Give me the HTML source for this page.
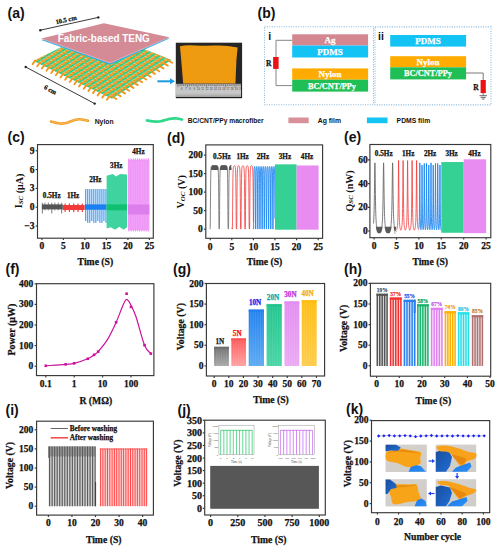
<!DOCTYPE html>
<html><head><meta charset="utf-8"><style>html,body{margin:0;padding:0;background:#fff;width:503px;height:550px;overflow:hidden;}svg{display:block;}</style></head>
<body><svg width="503" height="550" viewBox="0 0 503 550">
<rect width="503" height="550" fill="#fff"/>
<defs>
<pattern id="weavepat" patternUnits="userSpaceOnUse" width="1" height="2" patternTransform="matrix(4.647 2.235 2.727 -1.773 33 61)">
<rect width="1" height="2" fill="#e9f3e4"/>
<ellipse cx="0.3" cy="0.5" rx="0.36" ry="0.47" fill="#f4961c"/>
<ellipse cx="0.3" cy="1.5" rx="0.36" ry="0.47" fill="#f4961c"/>
<rect x="0.52" y="0" width="0.42" height="2" fill="#1fcf82"/>
<ellipse cx="0.62" cy="1.5" rx="0.12" ry="0.28" fill="#f6a030"/>
</pattern>
<pattern id="vstripe" patternUnits="userSpaceOnUse" width="1.7" height="10"><rect x="0" y="0" width="0.5" height="10" fill="#fff" opacity="0.18"/></pattern>
<clipPath id="weaveclip"><polygon points="33,61 96,30 172,60 112,99"/></clipPath>
<linearGradient id="rulerg" x1="0" y1="0" x2="0" y2="1"><stop offset="0" stop-color="#a8a8a8"/><stop offset="0.2" stop-color="#c4c4c4"/><stop offset="0.7" stop-color="#c8c8c8"/><stop offset="1" stop-color="#a0a0a0"/></linearGradient>
<pattern id="knit" patternUnits="userSpaceOnUse" width="2.4" height="2.0"><circle cx="0.6" cy="0.5" r="0.5" fill="#c86a00"/><circle cx="1.8" cy="1.5" r="0.5" fill="#c86a00"/></pattern>
<linearGradient id="glovedk" x1="0" y1="0" x2="1" y2="1"><stop offset="0" stop-color="#1a4e9c"/><stop offset="1" stop-color="#1f6fd8"/></linearGradient>
<linearGradient id="glovelt" x1="0" y1="0" x2="1" y2="1"><stop offset="0" stop-color="#1f78e8"/><stop offset="1" stop-color="#2a90f5"/></linearGradient>
<linearGradient id="photobg" x1="0" y1="0" x2="1" y2="1"><stop offset="0" stop-color="#d6d3cf"/><stop offset="1" stop-color="#cfcbc7"/></linearGradient>
</defs>
<text x="7.50" y="12.70" font-family="Liberation Sans" font-size="14" font-weight="bold" text-anchor="start" dominant-baseline="central" fill="#111">(a)</text>
<g clip-path="url(#weaveclip)">
<polygon points="33,61 93,22 172,60 112,99" fill="url(#weavepat)"/>
</g>
<path d="M35.2,60.5 l-2.6,3.6" fill="none" stroke="#f4961c" stroke-width="1.9" stroke-linecap="round"/>
<path d="M39.8,62.7 l-2.6,3.6" fill="none" stroke="#f4961c" stroke-width="1.9" stroke-linecap="round"/>
<path d="M44.5,64.9 l-2.6,3.6" fill="none" stroke="#f4961c" stroke-width="1.9" stroke-linecap="round"/>
<path d="M49.1,67.2 l-2.6,3.6" fill="none" stroke="#f4961c" stroke-width="1.9" stroke-linecap="round"/>
<path d="M53.8,69.4 l-2.6,3.6" fill="none" stroke="#f4961c" stroke-width="1.9" stroke-linecap="round"/>
<path d="M58.4,71.6 l-2.6,3.6" fill="none" stroke="#f4961c" stroke-width="1.9" stroke-linecap="round"/>
<path d="M63.1,73.9 l-2.6,3.6" fill="none" stroke="#f4961c" stroke-width="1.9" stroke-linecap="round"/>
<path d="M67.7,76.1 l-2.6,3.6" fill="none" stroke="#f4961c" stroke-width="1.9" stroke-linecap="round"/>
<path d="M72.4,78.4 l-2.6,3.6" fill="none" stroke="#f4961c" stroke-width="1.9" stroke-linecap="round"/>
<path d="M77.0,80.6 l-2.6,3.6" fill="none" stroke="#f4961c" stroke-width="1.9" stroke-linecap="round"/>
<path d="M81.7,82.8 l-2.6,3.6" fill="none" stroke="#f4961c" stroke-width="1.9" stroke-linecap="round"/>
<path d="M86.3,85.1 l-2.6,3.6" fill="none" stroke="#f4961c" stroke-width="1.9" stroke-linecap="round"/>
<path d="M91.0,87.3 l-2.6,3.6" fill="none" stroke="#f4961c" stroke-width="1.9" stroke-linecap="round"/>
<path d="M95.6,89.5 l-2.6,3.6" fill="none" stroke="#f4961c" stroke-width="1.9" stroke-linecap="round"/>
<path d="M100.3,91.8 l-2.6,3.6" fill="none" stroke="#f4961c" stroke-width="1.9" stroke-linecap="round"/>
<path d="M104.9,94.0 l-2.6,3.6" fill="none" stroke="#f4961c" stroke-width="1.9" stroke-linecap="round"/>
<path d="M109.5,96.2 l-2.6,3.6" fill="none" stroke="#f4961c" stroke-width="1.9" stroke-linecap="round"/>
<path d="M112.9,97.0 l3.4,2.0" fill="none" stroke="#f4961c" stroke-width="1.9" stroke-linecap="round"/>
<path d="M117.2,94.2 l3.4,2.0" fill="none" stroke="#f4961c" stroke-width="1.9" stroke-linecap="round"/>
<path d="M121.5,91.4 l3.4,2.0" fill="none" stroke="#f4961c" stroke-width="1.9" stroke-linecap="round"/>
<path d="M125.8,88.7 l3.4,2.0" fill="none" stroke="#f4961c" stroke-width="1.9" stroke-linecap="round"/>
<path d="M130.1,85.9 l3.4,2.0" fill="none" stroke="#f4961c" stroke-width="1.9" stroke-linecap="round"/>
<path d="M134.4,83.1 l3.4,2.0" fill="none" stroke="#f4961c" stroke-width="1.9" stroke-linecap="round"/>
<path d="M138.7,80.3 l3.4,2.0" fill="none" stroke="#f4961c" stroke-width="1.9" stroke-linecap="round"/>
<path d="M142.9,77.5 l3.4,2.0" fill="none" stroke="#f4961c" stroke-width="1.9" stroke-linecap="round"/>
<path d="M147.2,74.7 l3.4,2.0" fill="none" stroke="#f4961c" stroke-width="1.9" stroke-linecap="round"/>
<path d="M151.5,71.9 l3.4,2.0" fill="none" stroke="#f4961c" stroke-width="1.9" stroke-linecap="round"/>
<path d="M155.8,69.2 l3.4,2.0" fill="none" stroke="#f4961c" stroke-width="1.9" stroke-linecap="round"/>
<path d="M160.1,66.4 l3.4,2.0" fill="none" stroke="#f4961c" stroke-width="1.9" stroke-linecap="round"/>
<path d="M164.4,63.6 l3.4,2.0" fill="none" stroke="#f4961c" stroke-width="1.9" stroke-linecap="round"/>
<path d="M168.7,60.8 l3.4,2.0" fill="none" stroke="#f4961c" stroke-width="1.9" stroke-linecap="round"/>
<polygon points="41.3,39.9 103.9,24.6 169.4,38.6 110.1,64.8" fill="#1fb4ea"/>
<polygon points="41.3,38.5 103.9,23.3 169.4,37.2 110.1,63.3" fill="#d48b95"/>
<polyline points="41.8,38.9 110.1,62.9 168.8,37.6" fill="none" stroke="#ecb3bb" stroke-width="0.8"/>
<text x="103.80" y="38.00" font-family="Liberation Sans" font-size="10.5" font-weight="bold" text-anchor="middle" dominant-baseline="central" fill="#fff" textLength="92" lengthAdjust="spacingAndGlyphs">Fabric-based TENG</text>
<line x1="40.30" y1="30.20" x2="98.30" y2="17.40" stroke="#222" stroke-width="0.9"/>
<circle cx="40.3" cy="30.2" r="1.2" fill="#222"/><circle cx="98.3" cy="17.4" r="1.2" fill="#222"/>
<text x="66.00" y="19.50" font-family="Liberation Serif" font-size="6.5" font-weight="bold" text-anchor="middle" dominant-baseline="central" fill="#111" stroke="#111" stroke-width="0.25" transform="rotate(-13 66 19.5)">10.5 cm</text>
<line x1="25.70" y1="67.00" x2="94.70" y2="103.60" stroke="#222" stroke-width="0.9"/>
<circle cx="25.7" cy="67" r="1.2" fill="#222"/><circle cx="94.7" cy="103.6" r="1.2" fill="#222"/>
<text x="50.50" y="89.50" font-family="Liberation Serif" font-size="6.5" font-weight="bold" text-anchor="middle" dominant-baseline="central" fill="#111" stroke="#111" stroke-width="0.25" transform="rotate(28 50.5 89.5)">6 cm</text>
<line x1="157.40" y1="81.30" x2="171.00" y2="81.30" stroke="#1d9be0" stroke-width="2"/>
<polygon points="170,78.3 175,81.3 170,84.3" fill="#1d9be0"/>
<rect x="175.80" y="42.70" width="66.30" height="55.40" fill="#262626"/>
<path d="M180,46.2 Q186,44.8 195,45.4 T215,45.6 T237.6,47.4 L236.4,60 L235.4,83.6 L183.2,83.6 L181.4,62 Z" fill="#f3a012"/>
<path d="M180,46.2 Q186,44.8 195,45.4 T215,45.6 T237.6,47.4 L236.4,60 L235.4,83.6 L183.2,83.6 L181.4,62 Z" fill="url(#knit)" opacity="0.35"/>
<rect x="176.00" y="83.80" width="65.00" height="13.20" fill="url(#rulerg)"/>
<line x1="178.00" y1="84.30" x2="178.00" y2="87.20" stroke="#333" stroke-width="0.45"/>
<line x1="179.90" y1="84.30" x2="179.90" y2="86.00" stroke="#333" stroke-width="0.45"/>
<line x1="181.80" y1="84.30" x2="181.80" y2="86.00" stroke="#333" stroke-width="0.45"/>
<line x1="183.70" y1="84.30" x2="183.70" y2="86.00" stroke="#333" stroke-width="0.45"/>
<line x1="185.60" y1="84.30" x2="185.60" y2="86.00" stroke="#333" stroke-width="0.45"/>
<line x1="187.50" y1="84.30" x2="187.50" y2="87.20" stroke="#333" stroke-width="0.45"/>
<line x1="189.40" y1="84.30" x2="189.40" y2="86.00" stroke="#333" stroke-width="0.45"/>
<line x1="191.30" y1="84.30" x2="191.30" y2="86.00" stroke="#333" stroke-width="0.45"/>
<line x1="193.20" y1="84.30" x2="193.20" y2="86.00" stroke="#333" stroke-width="0.45"/>
<line x1="195.10" y1="84.30" x2="195.10" y2="86.00" stroke="#333" stroke-width="0.45"/>
<line x1="197.00" y1="84.30" x2="197.00" y2="87.20" stroke="#333" stroke-width="0.45"/>
<line x1="198.90" y1="84.30" x2="198.90" y2="86.00" stroke="#333" stroke-width="0.45"/>
<line x1="200.80" y1="84.30" x2="200.80" y2="86.00" stroke="#333" stroke-width="0.45"/>
<line x1="202.70" y1="84.30" x2="202.70" y2="86.00" stroke="#333" stroke-width="0.45"/>
<line x1="204.60" y1="84.30" x2="204.60" y2="86.00" stroke="#333" stroke-width="0.45"/>
<line x1="206.50" y1="84.30" x2="206.50" y2="87.20" stroke="#333" stroke-width="0.45"/>
<line x1="208.40" y1="84.30" x2="208.40" y2="86.00" stroke="#333" stroke-width="0.45"/>
<line x1="210.30" y1="84.30" x2="210.30" y2="86.00" stroke="#333" stroke-width="0.45"/>
<line x1="212.20" y1="84.30" x2="212.20" y2="86.00" stroke="#333" stroke-width="0.45"/>
<line x1="214.10" y1="84.30" x2="214.10" y2="86.00" stroke="#333" stroke-width="0.45"/>
<line x1="216.00" y1="84.30" x2="216.00" y2="87.20" stroke="#333" stroke-width="0.45"/>
<line x1="217.90" y1="84.30" x2="217.90" y2="86.00" stroke="#333" stroke-width="0.45"/>
<line x1="219.80" y1="84.30" x2="219.80" y2="86.00" stroke="#333" stroke-width="0.45"/>
<line x1="221.70" y1="84.30" x2="221.70" y2="86.00" stroke="#333" stroke-width="0.45"/>
<line x1="223.60" y1="84.30" x2="223.60" y2="86.00" stroke="#333" stroke-width="0.45"/>
<line x1="225.50" y1="84.30" x2="225.50" y2="87.20" stroke="#333" stroke-width="0.45"/>
<line x1="227.40" y1="84.30" x2="227.40" y2="86.00" stroke="#333" stroke-width="0.45"/>
<line x1="229.30" y1="84.30" x2="229.30" y2="86.00" stroke="#333" stroke-width="0.45"/>
<line x1="231.20" y1="84.30" x2="231.20" y2="86.00" stroke="#333" stroke-width="0.45"/>
<line x1="233.10" y1="84.30" x2="233.10" y2="86.00" stroke="#333" stroke-width="0.45"/>
<line x1="235.00" y1="84.30" x2="235.00" y2="87.20" stroke="#333" stroke-width="0.45"/>
<line x1="236.90" y1="84.30" x2="236.90" y2="86.00" stroke="#333" stroke-width="0.45"/>
<line x1="238.80" y1="84.30" x2="238.80" y2="86.00" stroke="#333" stroke-width="0.45"/>
<line x1="240.70" y1="84.30" x2="240.70" y2="86.00" stroke="#333" stroke-width="0.45"/>
<text x="181.7" y="90.3" font-family="Liberation Sans" font-size="2.6" text-anchor="middle" fill="#333">6</text>
<text x="185.9" y="90.3" font-family="Liberation Sans" font-size="2.6" text-anchor="middle" fill="#333">7</text>
<text x="190.1" y="90.3" font-family="Liberation Sans" font-size="2.6" text-anchor="middle" fill="#333">8</text>
<text x="194.3" y="90.3" font-family="Liberation Sans" font-size="2.6" text-anchor="middle" fill="#333">9</text>
<text x="198.5" y="90.3" font-family="Liberation Sans" font-size="2.6" text-anchor="middle" fill="#333">10</text>
<text x="202.7" y="90.3" font-family="Liberation Sans" font-size="2.6" text-anchor="middle" fill="#333">11</text>
<text x="206.9" y="90.3" font-family="Liberation Sans" font-size="2.6" text-anchor="middle" fill="#333">12</text>
<text x="211.1" y="90.3" font-family="Liberation Sans" font-size="2.6" text-anchor="middle" fill="#333">13</text>
<text x="215.3" y="90.3" font-family="Liberation Sans" font-size="2.6" text-anchor="middle" fill="#333">14</text>
<text x="219.5" y="90.3" font-family="Liberation Sans" font-size="2.6" text-anchor="middle" fill="#333">15</text>
<text x="223.7" y="90.3" font-family="Liberation Sans" font-size="2.6" text-anchor="middle" fill="#333">16</text>
<text x="227.9" y="90.3" font-family="Liberation Sans" font-size="2.6" text-anchor="middle" fill="#333">17</text>
<text x="232.1" y="90.3" font-family="Liberation Sans" font-size="2.6" text-anchor="middle" fill="#333">18</text>
<text x="236.3" y="90.3" font-family="Liberation Sans" font-size="2.6" text-anchor="middle" fill="#333">19</text>
<text x="240.5" y="90.3" font-family="Liberation Sans" font-size="2.6" text-anchor="middle" fill="#333">20</text>
<rect x="176.00" y="97.00" width="66.00" height="1.10" fill="#1a1a1a"/>
<path d="M51,121.5 C58,123.5 62,124.5 68,122.5 C74,120 76,118.5 82,119.5 L88,120.8" fill="none" stroke="#f39a1e" stroke-width="2.6" stroke-linecap="round"/>
<path d="M51,121.5 C58,123.5 62,124.5 68,122.5 C74,120 76,118.5 82,119.5 L88,120.8" fill="none" stroke="#fbd08a" stroke-width="0.6"/>
<text x="94.70" y="121.50" font-family="Liberation Sans" font-size="7.4" font-weight="bold" text-anchor="start" dominant-baseline="central" fill="#111" textLength="18.9" lengthAdjust="spacingAndGlyphs">Nylon</text>
<path d="M147,120.5 C152,121.5 156,122.5 162,121 C168,119 172,117.5 177,118.5 L182,119.5" fill="none" stroke="#2fd88a" stroke-width="2.8" stroke-linecap="round"/>
<text x="187.70" y="120.00" font-family="Liberation Sans" font-size="7.2" font-weight="bold" text-anchor="start" dominant-baseline="central" fill="#111" textLength="76" lengthAdjust="spacingAndGlyphs">BC/CNT/PPy macrofiber</text>
<rect x="288.40" y="117.50" width="20.30" height="5.70" fill="#d8919a"/>
<text x="317.80" y="120.50" font-family="Liberation Sans" font-size="7.2" font-weight="bold" text-anchor="start" dominant-baseline="central" fill="#111" textLength="23.2" lengthAdjust="spacingAndGlyphs">Ag film</text>
<rect x="366.90" y="117.50" width="20.60" height="5.70" fill="#14c4f2"/>
<text x="396.60" y="120.50" font-family="Liberation Sans" font-size="7.2" font-weight="bold" text-anchor="start" dominant-baseline="central" fill="#111" textLength="33.6" lengthAdjust="spacingAndGlyphs">PDMS film</text>
<text x="257.50" y="12.80" font-family="Liberation Sans" font-size="14" font-weight="bold" text-anchor="start" dominant-baseline="central" fill="#111">(b)</text>
<rect x="264.5" y="26.7" width="109" height="78" fill="none" stroke="#93bde0" stroke-width="1.1" stroke-dasharray="1.1 1.3"/>
<rect x="375" y="26.9" width="116" height="78" fill="none" stroke="#93bde0" stroke-width="1.1" stroke-dasharray="1.1 1.3"/>
<text x="269.60" y="35.80" font-family="Liberation Sans" font-size="10.5" font-weight="bold" text-anchor="middle" dominant-baseline="central" fill="#111">i</text>
<rect x="292.20" y="34.30" width="75.90" height="11.20" fill="#d4878f"/>
<rect x="292.20" y="45.50" width="75.90" height="12.00" fill="#13c3f4"/>
<rect x="292.20" y="68.40" width="75.90" height="11.30" fill="#ffab00"/>
<rect x="292.20" y="79.70" width="75.90" height="11.90" fill="#1fbf55"/>
<text x="330.00" y="40.20" font-family="Liberation Serif" font-size="9" font-weight="bold" text-anchor="middle" dominant-baseline="central" fill="#fff" stroke="#fff" stroke-width="0.25">Ag</text>
<text x="330.00" y="51.60" font-family="Liberation Serif" font-size="9" font-weight="bold" text-anchor="middle" dominant-baseline="central" fill="#fff" stroke="#fff" stroke-width="0.25">PDMS</text>
<text x="330.00" y="74.20" font-family="Liberation Serif" font-size="9" font-weight="bold" text-anchor="middle" dominant-baseline="central" fill="#fff" stroke="#fff" stroke-width="0.25">Nylon</text>
<text x="332.00" y="85.80" font-family="Liberation Serif" font-size="9" font-weight="bold" text-anchor="middle" dominant-baseline="central" fill="#fff" stroke="#fff" stroke-width="0.25" textLength="48" lengthAdjust="spacingAndGlyphs">BC/CNT/PPy</text>
<polyline points="292.2,40.3 276,40.3 276,85.6 292.2,85.6" fill="none" stroke="#777" stroke-width="0.9"/>
<rect x="273.10" y="57.00" width="5.50" height="11.90" fill="#ee1111"/>
<text x="268.80" y="63.00" font-family="Liberation Serif" font-size="7.5" font-weight="bold" text-anchor="middle" dominant-baseline="central" fill="#111" stroke="#111" stroke-width="0.25">R</text>
<text x="381.00" y="36.20" font-family="Liberation Sans" font-size="10.5" font-weight="bold" text-anchor="middle" dominant-baseline="central" fill="#111">ii</text>
<rect x="390.20" y="35.00" width="75.90" height="11.60" fill="#13c3f4"/>
<rect x="390.20" y="56.20" width="75.90" height="11.10" fill="#ffab00"/>
<rect x="390.20" y="67.30" width="75.90" height="12.10" fill="#1fbf55"/>
<text x="428.00" y="40.80" font-family="Liberation Serif" font-size="9" font-weight="bold" text-anchor="middle" dominant-baseline="central" fill="#fff" stroke="#fff" stroke-width="0.25">PDMS</text>
<text x="428.00" y="61.80" font-family="Liberation Serif" font-size="9" font-weight="bold" text-anchor="middle" dominant-baseline="central" fill="#fff" stroke="#fff" stroke-width="0.25">Nylon</text>
<text x="428.00" y="73.40" font-family="Liberation Serif" font-size="9" font-weight="bold" text-anchor="middle" dominant-baseline="central" fill="#fff" stroke="#fff" stroke-width="0.25" textLength="48" lengthAdjust="spacingAndGlyphs">BC/CNT/PPy</text>
<polyline points="466.1,73 483.2,73 483.2,80" fill="none" stroke="#555" stroke-width="0.8"/>
<rect x="480.60" y="80.00" width="5.20" height="13.10" fill="#ee1111"/>
<line x1="483.20" y1="93.10" x2="483.20" y2="95.50" stroke="#555" stroke-width="0.8"/>
<line x1="479.50" y1="95.70" x2="487.00" y2="95.70" stroke="#444" stroke-width="0.8"/>
<line x1="480.60" y1="97.40" x2="485.80" y2="97.40" stroke="#444" stroke-width="0.8"/>
<line x1="481.80" y1="99.00" x2="484.60" y2="99.00" stroke="#444" stroke-width="0.8"/>
<text x="476.00" y="87.70" font-family="Liberation Serif" font-size="7.5" font-weight="bold" text-anchor="middle" dominant-baseline="central" fill="#111" stroke="#111" stroke-width="0.25">R</text>
<text x="7.60" y="137.30" font-family="Liberation Sans" font-size="14" font-weight="bold" text-anchor="start" dominant-baseline="central" fill="#111">(c)</text>
<rect x="37.5" y="144.6" width="115.80000000000001" height="93.6" fill="none" stroke="#383838" stroke-width="1.15"/>
<line x1="35.60" y1="150.72" x2="37.50" y2="150.72" stroke="#383838" stroke-width="1.15"/>
<text x="34.50" y="150.72" font-family="Liberation Serif" font-size="9.5" font-weight="bold" text-anchor="end" dominant-baseline="central" fill="#111" stroke="#111" stroke-width="0.25">9</text>
<line x1="35.60" y1="169.55" x2="37.50" y2="169.55" stroke="#383838" stroke-width="1.15"/>
<text x="34.50" y="169.55" font-family="Liberation Serif" font-size="9.5" font-weight="bold" text-anchor="end" dominant-baseline="central" fill="#111" stroke="#111" stroke-width="0.25">6</text>
<line x1="35.60" y1="188.38" x2="37.50" y2="188.38" stroke="#383838" stroke-width="1.15"/>
<text x="34.50" y="188.38" font-family="Liberation Serif" font-size="9.5" font-weight="bold" text-anchor="end" dominant-baseline="central" fill="#111" stroke="#111" stroke-width="0.25">3</text>
<line x1="35.60" y1="207.20" x2="37.50" y2="207.20" stroke="#383838" stroke-width="1.15"/>
<text x="34.50" y="207.20" font-family="Liberation Serif" font-size="9.5" font-weight="bold" text-anchor="end" dominant-baseline="central" fill="#111" stroke="#111" stroke-width="0.25">0</text>
<line x1="35.60" y1="226.02" x2="37.50" y2="226.02" stroke="#383838" stroke-width="1.15"/>
<text x="34.50" y="226.02" font-family="Liberation Serif" font-size="9.5" font-weight="bold" text-anchor="end" dominant-baseline="central" fill="#111" stroke="#111" stroke-width="0.25">−3</text>
<line x1="41.90" y1="238.20" x2="41.90" y2="240.10" stroke="#383838" stroke-width="1.15"/>
<text x="41.90" y="245.70" font-family="Liberation Serif" font-size="9.5" font-weight="bold" text-anchor="middle" dominant-baseline="central" fill="#111" stroke="#111" stroke-width="0.25">0</text>
<line x1="63.40" y1="238.20" x2="63.40" y2="240.10" stroke="#383838" stroke-width="1.15"/>
<text x="63.40" y="245.70" font-family="Liberation Serif" font-size="9.5" font-weight="bold" text-anchor="middle" dominant-baseline="central" fill="#111" stroke="#111" stroke-width="0.25">5</text>
<line x1="84.90" y1="238.20" x2="84.90" y2="240.10" stroke="#383838" stroke-width="1.15"/>
<text x="84.90" y="245.70" font-family="Liberation Serif" font-size="9.5" font-weight="bold" text-anchor="middle" dominant-baseline="central" fill="#111" stroke="#111" stroke-width="0.25">10</text>
<line x1="106.40" y1="238.20" x2="106.40" y2="240.10" stroke="#383838" stroke-width="1.15"/>
<text x="106.40" y="245.70" font-family="Liberation Serif" font-size="9.5" font-weight="bold" text-anchor="middle" dominant-baseline="central" fill="#111" stroke="#111" stroke-width="0.25">15</text>
<line x1="127.90" y1="238.20" x2="127.90" y2="240.10" stroke="#383838" stroke-width="1.15"/>
<text x="127.90" y="245.70" font-family="Liberation Serif" font-size="9.5" font-weight="bold" text-anchor="middle" dominant-baseline="central" fill="#111" stroke="#111" stroke-width="0.25">20</text>
<line x1="149.40" y1="238.20" x2="149.40" y2="240.10" stroke="#383838" stroke-width="1.15"/>
<text x="149.40" y="245.70" font-family="Liberation Serif" font-size="9.5" font-weight="bold" text-anchor="middle" dominant-baseline="central" fill="#111" stroke="#111" stroke-width="0.25">25</text>
<text x="95.40" y="261.10" font-family="Liberation Serif" font-size="9.7" font-weight="bold" text-anchor="middle" dominant-baseline="central" fill="#111" stroke="#111" stroke-width="0.25">Time (S)</text>
<text x="0" y="0" transform="translate(18.8 191) rotate(-90)" font-family="Liberation Serif" font-size="10" font-weight="bold" text-anchor="middle" dominant-baseline="central" fill="#111">I<tspan font-size="7" dy="2" font-style="italic">SC</tspan><tspan dy="-2"> (μA)</tspan></text>
<rect x="41.90" y="204.38" width="20.85" height="5.02" fill="#555"/>
<line x1="42.33" y1="202.81" x2="42.33" y2="213.47" stroke="#555" stroke-width="0.8"/>
<line x1="51.79" y1="202.81" x2="51.79" y2="213.47" stroke="#555" stroke-width="0.8"/>
<line x1="61.68" y1="202.81" x2="61.68" y2="213.47" stroke="#555" stroke-width="0.8"/>
<line x1="44.91" y1="202.49" x2="44.91" y2="210.34" stroke="#555" stroke-width="0.7"/>
<line x1="48.35" y1="202.49" x2="48.35" y2="210.34" stroke="#555" stroke-width="0.7"/>
<line x1="54.80" y1="202.49" x2="54.80" y2="210.34" stroke="#555" stroke-width="0.7"/>
<line x1="58.24" y1="202.49" x2="58.24" y2="210.34" stroke="#555" stroke-width="0.7"/>
<rect x="62.97" y="205.00" width="21.72" height="5.02" fill="#f23b3b"/>
<line x1="65.12" y1="203.44" x2="65.12" y2="211.91" stroke="#f23b3b" stroke-width="1.2"/>
<line x1="69.42" y1="203.44" x2="69.42" y2="211.91" stroke="#f23b3b" stroke-width="1.2"/>
<line x1="73.72" y1="203.44" x2="73.72" y2="211.91" stroke="#f23b3b" stroke-width="1.2"/>
<line x1="78.02" y1="203.44" x2="78.02" y2="211.91" stroke="#f23b3b" stroke-width="1.2"/>
<line x1="82.32" y1="203.44" x2="82.32" y2="211.91" stroke="#f23b3b" stroke-width="1.2"/>
<line x1="85.76" y1="189.00" x2="85.76" y2="221.00" stroke="#2288ee" stroke-width="1.0"/>
<line x1="87.78" y1="189.00" x2="87.78" y2="222.89" stroke="#2288ee" stroke-width="1.0"/>
<line x1="89.80" y1="189.00" x2="89.80" y2="222.89" stroke="#2288ee" stroke-width="1.0"/>
<line x1="91.82" y1="189.00" x2="91.82" y2="221.00" stroke="#2288ee" stroke-width="1.0"/>
<line x1="93.84" y1="189.00" x2="93.84" y2="222.89" stroke="#2288ee" stroke-width="1.0"/>
<line x1="95.86" y1="189.00" x2="95.86" y2="222.89" stroke="#2288ee" stroke-width="1.0"/>
<line x1="97.89" y1="189.00" x2="97.89" y2="221.00" stroke="#2288ee" stroke-width="1.0"/>
<line x1="99.91" y1="189.00" x2="99.91" y2="222.89" stroke="#2288ee" stroke-width="1.0"/>
<line x1="101.93" y1="189.00" x2="101.93" y2="222.89" stroke="#2288ee" stroke-width="1.0"/>
<line x1="103.95" y1="189.00" x2="103.95" y2="221.00" stroke="#2288ee" stroke-width="1.0"/>
<line x1="105.97" y1="189.00" x2="105.97" y2="222.89" stroke="#2288ee" stroke-width="1.0"/>
<rect x="84.90" y="204.38" width="21.50" height="5.33" fill="#1a7ff0"/>
<path d="M106.61500000000001,175.825 L112.85,173.9425 L115.85999999999999,176.4525 L120.16,173.9425 L127.03999999999999,174.57 L127.03999999999999,227.28 L123.6,229.79 L119.29999999999998,226.65249999999997 L115.0,229.79 L110.69999999999999,227.28 L106.61500000000001,228.535 Z" fill="#3fd3a0"/>
<rect x="106.62" y="204.38" width="20.42" height="5.96" fill="#10c070"/>
<path d="M127.90,160.14 L127.90,160.14 L128.97,157.63 L130.05,160.14 L131.12,157.63 L132.20,160.14 L133.28,157.63 L134.35,160.14 L135.42,157.63 L136.50,160.14 L137.57,157.63 L138.65,160.14 L139.72,157.63 L140.80,160.14 L141.88,157.63 L142.95,160.14 L144.03,157.63 L145.10,160.14 L146.17,157.63 L147.25,160.14 L148.32,157.63 L149.40,160.14 L149.40,229.79 L148.32,231.99 L147.25,229.79 L146.17,231.99 L145.10,229.79 L144.03,231.99 L142.95,229.79 L141.88,231.99 L140.80,229.79 L139.72,231.99 L138.65,229.79 L137.57,231.99 L136.50,229.79 L135.42,231.99 L134.35,229.79 L133.28,231.99 L132.20,229.79 L131.12,231.99 L130.05,229.79 L128.97,231.99 L127.90,229.79 Z" fill="#ef96f6"/>
<rect x="127.90" y="161.39" width="21.50" height="68.40" fill="url(#vstripe)"/>
<rect x="127.90" y="204.50" width="21.50" height="9.98" fill="#dc7eec"/>
<text x="51.70" y="195.59" font-family="Liberation Serif" font-size="7.2" font-weight="bold" text-anchor="middle" dominant-baseline="central" fill="#111" stroke="#111" stroke-width="0.25">0.5Hz</text>
<text x="73.07" y="195.59" font-family="Liberation Serif" font-size="7.2" font-weight="bold" text-anchor="middle" dominant-baseline="central" fill="#111" stroke="#111" stroke-width="0.25">1Hz</text>
<text x="95.39" y="180.22" font-family="Liberation Serif" font-size="7.2" font-weight="bold" text-anchor="middle" dominant-baseline="central" fill="#111" stroke="#111" stroke-width="0.25">2Hz</text>
<text x="116.29" y="165.78" font-family="Liberation Serif" font-size="7.2" font-weight="bold" text-anchor="middle" dominant-baseline="central" fill="#111" stroke="#111" stroke-width="0.25">3Hz</text>
<text x="138.44" y="151.67" font-family="Liberation Serif" font-size="7.2" font-weight="bold" text-anchor="middle" dominant-baseline="central" fill="#111" stroke="#111" stroke-width="0.25">4Hz</text>
<text x="167.00" y="137.80" font-family="Liberation Sans" font-size="14" font-weight="bold" text-anchor="start" dominant-baseline="central" fill="#111">(d)</text>
<rect x="205.8" y="144.9" width="116.80000000000001" height="93.4" fill="none" stroke="#383838" stroke-width="1.15"/>
<line x1="203.90" y1="155.10" x2="205.80" y2="155.10" stroke="#383838" stroke-width="1.15"/>
<text x="202.80" y="155.10" font-family="Liberation Serif" font-size="9.5" font-weight="bold" text-anchor="end" dominant-baseline="central" fill="#111" stroke="#111" stroke-width="0.25">200</text>
<line x1="203.90" y1="173.60" x2="205.80" y2="173.60" stroke="#383838" stroke-width="1.15"/>
<text x="202.80" y="173.60" font-family="Liberation Serif" font-size="9.5" font-weight="bold" text-anchor="end" dominant-baseline="central" fill="#111" stroke="#111" stroke-width="0.25">150</text>
<line x1="203.90" y1="192.10" x2="205.80" y2="192.10" stroke="#383838" stroke-width="1.15"/>
<text x="202.80" y="192.10" font-family="Liberation Serif" font-size="9.5" font-weight="bold" text-anchor="end" dominant-baseline="central" fill="#111" stroke="#111" stroke-width="0.25">100</text>
<line x1="203.90" y1="210.60" x2="205.80" y2="210.60" stroke="#383838" stroke-width="1.15"/>
<text x="202.80" y="210.60" font-family="Liberation Serif" font-size="9.5" font-weight="bold" text-anchor="end" dominant-baseline="central" fill="#111" stroke="#111" stroke-width="0.25">50</text>
<line x1="203.90" y1="229.10" x2="205.80" y2="229.10" stroke="#383838" stroke-width="1.15"/>
<text x="202.80" y="229.10" font-family="Liberation Serif" font-size="9.5" font-weight="bold" text-anchor="end" dominant-baseline="central" fill="#111" stroke="#111" stroke-width="0.25">0</text>
<line x1="210.20" y1="238.30" x2="210.20" y2="240.20" stroke="#383838" stroke-width="1.15"/>
<text x="210.20" y="246.50" font-family="Liberation Serif" font-size="9.5" font-weight="bold" text-anchor="middle" dominant-baseline="central" fill="#111" stroke="#111" stroke-width="0.25">0</text>
<line x1="231.80" y1="238.30" x2="231.80" y2="240.20" stroke="#383838" stroke-width="1.15"/>
<text x="231.80" y="246.50" font-family="Liberation Serif" font-size="9.5" font-weight="bold" text-anchor="middle" dominant-baseline="central" fill="#111" stroke="#111" stroke-width="0.25">5</text>
<line x1="253.40" y1="238.30" x2="253.40" y2="240.20" stroke="#383838" stroke-width="1.15"/>
<text x="253.40" y="246.50" font-family="Liberation Serif" font-size="9.5" font-weight="bold" text-anchor="middle" dominant-baseline="central" fill="#111" stroke="#111" stroke-width="0.25">10</text>
<line x1="275.00" y1="238.30" x2="275.00" y2="240.20" stroke="#383838" stroke-width="1.15"/>
<text x="275.00" y="246.50" font-family="Liberation Serif" font-size="9.5" font-weight="bold" text-anchor="middle" dominant-baseline="central" fill="#111" stroke="#111" stroke-width="0.25">15</text>
<line x1="296.60" y1="238.30" x2="296.60" y2="240.20" stroke="#383838" stroke-width="1.15"/>
<text x="296.60" y="246.50" font-family="Liberation Serif" font-size="9.5" font-weight="bold" text-anchor="middle" dominant-baseline="central" fill="#111" stroke="#111" stroke-width="0.25">20</text>
<line x1="318.20" y1="238.30" x2="318.20" y2="240.20" stroke="#383838" stroke-width="1.15"/>
<text x="318.20" y="246.50" font-family="Liberation Serif" font-size="9.5" font-weight="bold" text-anchor="middle" dominant-baseline="central" fill="#111" stroke="#111" stroke-width="0.25">25</text>
<text x="264.50" y="261.50" font-family="Liberation Serif" font-size="9.7" font-weight="bold" text-anchor="middle" dominant-baseline="central" fill="#111" stroke="#111" stroke-width="0.25">Time (S)</text>
<text x="0" y="0" transform="translate(180.8 191.8) rotate(-90)" font-family="Liberation Serif" font-size="10" font-weight="bold" text-anchor="middle" dominant-baseline="central" fill="#111">V<tspan font-size="7" dy="2" font-style="italic">OC</tspan><tspan dy="-2"> (V)</tspan></text>
<path d="M210.00,229.10 L210.10,229.00 L210.20,227.51 L210.30,221.80 L210.40,210.61 L210.50,197.28 L210.60,186.17 L210.70,178.60 L210.80,173.89 L210.90,171.00 L211.00,169.20 L211.10,168.07 L211.20,167.32 L211.30,166.82 L211.40,166.48 L211.50,166.24 L211.60,166.06 L211.70,165.93 L211.80,165.84 L211.90,165.76 L212.00,165.71 L212.10,165.66 L212.20,165.63 L212.30,165.60 L212.40,165.58 L212.50,165.56 L212.60,165.55 L212.70,165.53 L212.80,165.52 L212.90,165.52 L213.00,165.51 L213.10,165.50 L213.20,165.50 L213.30,165.49 L213.40,165.49 L213.50,165.49 L213.60,165.48 L213.70,165.48 L213.80,165.48 L213.90,165.48 L214.00,165.48 L214.10,165.47 L214.20,165.47 L214.30,165.47 L214.40,165.47 L214.50,165.47 L214.60,165.47 L214.70,165.47 L214.80,165.47 L214.90,165.47 L215.00,165.47 L215.10,165.47 L215.20,165.48 L215.30,165.48 L215.40,165.48 L215.50,165.48 L215.60,165.48 L215.70,165.49 L215.80,165.49 L215.90,165.49 L216.00,165.50 L216.10,165.50 L216.20,165.51 L216.30,165.52 L216.40,165.52 L216.50,165.53 L216.60,165.55 L216.70,165.56 L216.80,165.58 L216.90,165.60 L217.00,165.63 L217.10,165.66 L217.20,165.71 L217.30,165.76 L217.40,165.84 L217.50,165.93 L217.60,166.06 L217.70,166.24 L217.80,166.48 L217.90,166.82 L218.00,167.32 L218.10,168.07 L218.20,169.20 L218.30,171.00 L218.40,173.89 L218.50,178.60 L218.60,186.17 L218.70,197.28 L218.80,210.61 L218.90,221.80 L219.00,227.51 L219.10,229.00 L219.20,229.10 L219.30,229.00 L219.40,227.51 L219.50,221.80 L219.60,210.61 L219.70,197.28 L219.80,186.17 L219.90,178.60 L220.00,173.89 L220.10,171.00 L220.20,169.20 L220.30,168.07 L220.40,167.32 L220.50,166.82 L220.60,166.48 L220.70,166.24 L220.80,166.06 L220.90,165.93 L221.00,165.84 L221.10,165.76 L221.20,165.71 L221.30,165.66 L221.40,165.63 L221.50,165.60 L221.60,165.58 L221.70,165.56 L221.80,165.55 L221.90,165.53 L222.00,165.52 L222.10,165.52 L222.20,165.51 L222.30,165.50 L222.40,165.50 L222.50,165.49 L222.60,165.49 L222.70,165.49 L222.80,165.48 L222.90,165.48 L223.00,165.48 L223.10,165.48 L223.20,165.48 L223.30,165.47 L223.40,165.47 L223.50,165.47 L223.60,165.47 L223.70,165.47 L223.80,165.47 L223.90,165.47 L224.00,165.47 L224.10,165.47 L224.20,165.47 L224.30,165.48 L224.40,165.48 L224.50,165.48 L224.60,165.48 L224.70,165.48 L224.80,165.49 L224.90,165.49 L225.00,165.49 L225.10,165.50 L225.20,165.50 L225.30,165.51 L225.40,165.52 L225.50,165.52 L225.60,165.53 L225.70,165.55 L225.80,165.56 L225.90,165.58 L226.00,165.60 L226.10,165.63 L226.20,165.66 L226.30,165.71 L226.40,165.76 L226.50,165.84 L226.60,165.93 L226.70,166.06 L226.80,166.24 L226.90,166.48 L227.00,166.82 L227.10,167.32 L227.20,168.07 L227.30,169.20 L227.40,171.00 L227.50,173.89 L227.60,178.60 L227.70,186.17 L227.80,197.28 L227.90,210.61 L228.00,221.80 L228.10,227.51 L228.20,229.00 L228.30,229.10 L228.40,229.00 L228.50,227.51 L228.60,221.80 L228.70,210.61 L228.80,197.28 L228.90,186.17 L229.00,178.60 L229.10,173.89 L229.20,171.00 L229.30,169.20 L229.40,168.07 L229.50,167.32 L229.60,166.82 L229.70,166.48 L229.80,166.24 L229.90,166.06 L230.00,165.93 L230.10,165.84 L230.20,165.76 L230.30,165.71 L230.40,165.66 L230.50,165.63 L230.60,165.60 L230.70,165.58 L230.80,165.56 L230.90,165.55 L231.00,165.53 L231.10,165.52 L231.20,165.52 L231.30,165.51 L231.40,165.50 L231.50,165.50 L231.60,165.49 L231.70,165.49 L231.80,165.49 L231.90,165.48 L232.00,165.48" fill="none" stroke="#777" stroke-width="0.9" stroke-linejoin="round"/>
<path d="M211.0,169.89999999999998 Q211.0,165.275 213.0,165.275 L216.4,165.275 Q218.4,165.275 218.4,169.89999999999998 Z" fill="#555"/>
<path d="M220.0,169.89999999999998 Q220.0,165.275 222.0,165.275 L225.5,165.275 Q227.5,165.275 227.5,169.89999999999998 Z" fill="#555"/>
<path d="M229.0,169.89999999999998 Q229.0,165.275 231.0,165.275 L229.6,165.275 Q231.6,165.275 231.6,169.89999999999998 Z" fill="#555"/>
<path d="M232.00,227.51 L232.10,229.00 L232.20,229.10 L232.30,229.00 L232.40,227.51 L232.50,221.80 L232.60,210.61 L232.70,197.28 L232.80,186.17 L232.90,178.60 L233.00,173.89 L233.10,171.00 L233.20,169.20 L233.30,168.07 L233.40,167.32 L233.50,166.82 L233.60,166.48 L233.70,166.24 L233.80,166.06 L233.90,165.93 L234.00,165.84 L234.10,165.76 L234.20,165.71 L234.30,165.66 L234.40,165.66 L234.50,165.71 L234.60,165.76 L234.70,165.84 L234.80,165.93 L234.90,166.06 L235.00,166.24 L235.10,166.48 L235.20,166.82 L235.30,167.32 L235.40,168.07 L235.50,169.20 L235.60,171.00 L235.70,173.89 L235.80,178.60 L235.90,186.17 L236.00,197.28 L236.10,210.61 L236.20,221.80 L236.30,227.51 L236.40,229.00 L236.50,229.10 L236.60,229.00 L236.70,227.51 L236.80,221.80 L236.90,210.61 L237.00,197.28 L237.10,186.17 L237.20,178.60 L237.30,173.89 L237.40,171.00 L237.50,169.20 L237.60,168.07 L237.70,167.32 L237.80,166.82 L237.90,166.48 L238.00,166.24 L238.10,166.06 L238.20,165.93 L238.30,165.84 L238.40,165.76 L238.50,165.71 L238.60,165.66 L238.70,165.66 L238.80,165.71 L238.90,165.76 L239.00,165.84 L239.10,165.93 L239.20,166.06 L239.30,166.24 L239.40,166.48 L239.50,166.82 L239.60,167.32 L239.70,168.07 L239.80,169.20 L239.90,171.00 L240.00,173.89 L240.10,178.60 L240.20,186.17 L240.30,197.28 L240.40,210.61 L240.50,221.80 L240.60,227.51 L240.70,229.00 L240.80,229.10 L240.90,229.00 L241.00,227.51 L241.10,221.80 L241.20,210.61 L241.30,197.28 L241.40,186.17 L241.50,178.60 L241.60,173.89 L241.70,171.00 L241.80,169.20 L241.90,168.07 L242.00,167.32 L242.10,166.82 L242.20,166.48 L242.30,166.24 L242.40,166.06 L242.50,165.93 L242.60,165.84 L242.70,165.76 L242.80,165.71 L242.90,165.66 L243.00,165.66 L243.10,165.71 L243.20,165.76 L243.30,165.84 L243.40,165.93 L243.50,166.06 L243.60,166.24 L243.70,166.48 L243.80,166.82 L243.90,167.32 L244.00,168.07 L244.10,169.20 L244.20,171.00 L244.30,173.89 L244.40,178.60 L244.50,186.17 L244.60,197.28 L244.70,210.61 L244.80,221.80 L244.90,227.51 L245.00,229.00 L245.10,229.10 L245.20,229.00 L245.30,227.51 L245.40,221.80 L245.50,210.61 L245.60,197.28 L245.70,186.17 L245.80,178.60 L245.90,173.89 L246.00,171.00 L246.10,169.20 L246.20,168.07 L246.30,167.32 L246.40,166.82 L246.50,166.48 L246.60,166.24 L246.70,166.06 L246.80,165.93 L246.90,165.84 L247.00,165.76 L247.10,165.71 L247.20,165.66 L247.30,165.66 L247.40,165.71 L247.50,165.76 L247.60,165.84 L247.70,165.93 L247.80,166.06 L247.90,166.24 L248.00,166.48 L248.10,166.82 L248.20,167.32 L248.30,168.07 L248.40,169.20 L248.50,171.00 L248.60,173.89 L248.70,178.60 L248.80,186.17 L248.90,197.28 L249.00,210.61 L249.10,221.80 L249.20,227.51 L249.30,229.00 L249.40,229.10 L249.50,229.00 L249.60,227.51 L249.70,221.80 L249.80,210.61 L249.90,197.28 L250.00,186.17 L250.10,178.60 L250.20,173.89 L250.30,171.00 L250.40,169.20 L250.50,168.07 L250.60,167.32 L250.70,166.82 L250.80,166.48 L250.90,166.24 L251.00,166.06 L251.10,165.93 L251.20,165.84 L251.30,165.76 L251.40,165.71 L251.50,165.66 L251.60,165.66 L251.70,165.71 L251.80,165.76 L251.90,165.84 L252.00,165.93 L252.10,166.06 L252.20,166.24 L252.30,166.48 L252.40,166.82 L252.50,167.32 L252.60,168.07 L252.70,169.20 L252.80,171.00 L252.90,173.89 L253.00,178.60 L253.10,186.17 L253.20,197.28 L253.30,210.61 L253.40,221.80" fill="none" stroke="#f23a3a" stroke-width="0.8" stroke-linejoin="round"/>
<path d="M253.40,228.33 L253.50,229.10 L253.60,228.33 L253.70,218.69 L253.80,197.56 L253.90,181.18 L254.00,173.25 L254.10,169.73 L254.20,168.07 L254.30,167.24 L254.40,166.78 L254.50,166.52 L254.60,166.42 L254.70,166.61 L254.80,166.94 L254.90,167.51 L255.00,168.60 L255.10,170.82 L255.20,175.68 L255.30,186.54 L255.40,206.35 L255.50,224.38 L255.60,229.00 L255.70,229.08 L255.80,226.24 L255.90,210.77 L256.00,189.82 L256.10,177.23 L256.20,171.50 L256.30,168.92 L256.40,167.67 L256.50,167.02 L256.60,166.66 L256.70,166.45 L256.80,166.48 L256.90,166.72 L257.00,167.13 L257.10,167.86 L257.20,169.29 L257.30,172.31 L257.40,179.04 L257.50,193.51 L257.60,214.95 L257.70,227.53 L257.80,229.10 L257.90,228.78 L258.00,221.86 L258.10,201.88 L258.20,183.66 L258.30,174.37 L258.40,170.23 L258.50,168.32 L258.60,167.37 L258.70,166.86 L258.80,166.56 L258.90,166.39 L259.00,166.56 L259.10,166.86 L259.20,167.37 L259.30,168.32 L259.40,170.23 L259.50,174.37 L259.60,183.66 L259.70,201.88 L259.80,221.86 L259.90,228.78 L260.00,229.10 L260.10,227.53 L260.20,214.95 L260.30,193.51 L260.40,179.04 L260.50,172.31 L260.60,169.29 L260.70,167.86 L260.80,167.13 L260.90,166.72 L261.00,166.48 L261.10,166.45 L261.20,166.66 L261.30,167.02 L261.40,167.67 L261.50,168.92 L261.60,171.50 L261.70,177.23 L261.80,189.82 L261.90,210.77 L262.00,226.24 L262.10,229.08 L262.20,229.00 L262.30,224.38 L262.40,206.35 L262.50,186.54 L262.60,175.68 L262.70,170.82 L262.80,168.60 L262.90,167.51 L263.00,166.94 L263.10,166.61 L263.20,166.42 L263.30,166.52 L263.40,166.78 L263.50,167.24 L263.60,168.07 L263.70,169.73 L263.80,173.25 L263.90,181.18 L264.00,197.56 L264.10,218.69 L264.20,228.33 L264.30,229.10 L264.40,228.33 L264.50,218.69 L264.60,197.56 L264.70,181.18 L264.80,173.25 L264.90,169.73 L265.00,168.07 L265.10,167.24 L265.20,166.78 L265.30,166.52 L265.40,166.42 L265.50,166.61 L265.60,166.94 L265.70,167.51 L265.80,168.60 L265.90,170.82 L266.00,175.68 L266.10,186.54 L266.20,206.35 L266.30,224.38 L266.40,229.00 L266.50,229.08 L266.60,226.24 L266.70,210.77 L266.80,189.82 L266.90,177.23 L267.00,171.50 L267.10,168.92 L267.20,167.67 L267.30,167.02 L267.40,166.66 L267.50,166.45 L267.60,166.48 L267.70,166.72 L267.80,167.13 L267.90,167.86 L268.00,169.29 L268.10,172.31 L268.20,179.04 L268.30,193.51 L268.40,214.95 L268.50,227.53 L268.60,229.10 L268.70,228.78 L268.80,221.86 L268.90,201.88 L269.00,183.66 L269.10,174.37 L269.20,170.23 L269.30,168.32 L269.40,167.37 L269.50,166.86 L269.60,166.56 L269.70,166.39 L269.80,166.56 L269.90,166.86 L270.00,167.37 L270.10,168.32 L270.20,170.23 L270.30,174.37 L270.40,183.66 L270.50,201.88 L270.60,221.86 L270.70,228.78 L270.80,229.10 L270.90,227.53 L271.00,214.95 L271.10,193.51 L271.20,179.04 L271.30,172.31 L271.40,169.29 L271.50,167.86 L271.60,167.13 L271.70,166.72 L271.80,166.48 L271.90,166.45 L272.00,166.66 L272.10,167.02 L272.20,167.67 L272.30,168.92 L272.40,171.50 L272.50,177.23 L272.60,189.82 L272.70,210.77 L272.80,226.24 L272.90,229.08 L273.00,229.00 L273.10,224.38 L273.20,206.35 L273.30,186.54 L273.40,175.68 L273.50,170.82 L273.60,168.60 L273.70,167.51 L273.80,166.94 L273.90,166.61 L274.00,166.42 L274.10,166.52 L274.20,166.78 L274.30,167.24 L274.40,168.07 L274.50,169.73 L274.60,173.25 L274.70,181.18 L274.80,197.56 L274.90,218.69" fill="none" stroke="#1f86f0" stroke-width="0.9" stroke-linejoin="round"/>
<rect x="275.00" y="164.35" width="21.60" height="65.35" fill="#35d094"/>
<rect x="296.60" y="165.46" width="22.00" height="64.24" fill="#e88cf2"/>
<text x="221.78" y="156.97" font-family="Liberation Serif" font-size="7.2" font-weight="bold" text-anchor="middle" dominant-baseline="central" fill="#111" stroke="#111" stroke-width="0.25">0.5Hz</text>
<text x="242.60" y="156.97" font-family="Liberation Serif" font-size="7.2" font-weight="bold" text-anchor="middle" dominant-baseline="central" fill="#111" stroke="#111" stroke-width="0.25">1Hz</text>
<text x="262.90" y="156.97" font-family="Liberation Serif" font-size="7.2" font-weight="bold" text-anchor="middle" dominant-baseline="central" fill="#111" stroke="#111" stroke-width="0.25">2Hz</text>
<text x="284.94" y="156.97" font-family="Liberation Serif" font-size="7.2" font-weight="bold" text-anchor="middle" dominant-baseline="central" fill="#111" stroke="#111" stroke-width="0.25">3Hz</text>
<text x="306.97" y="156.97" font-family="Liberation Serif" font-size="7.2" font-weight="bold" text-anchor="middle" dominant-baseline="central" fill="#111" stroke="#111" stroke-width="0.25">4Hz</text>
<text x="344.00" y="137.20" font-family="Liberation Sans" font-size="14" font-weight="bold" text-anchor="start" dominant-baseline="central" fill="#111">(e)</text>
<rect x="369.9" y="144.5" width="120.90000000000003" height="93.19999999999999" fill="none" stroke="#383838" stroke-width="1.15"/>
<line x1="368.00" y1="159.90" x2="369.90" y2="159.90" stroke="#383838" stroke-width="1.15"/>
<text x="367.80" y="159.90" font-family="Liberation Serif" font-size="9.5" font-weight="bold" text-anchor="end" dominant-baseline="central" fill="#111" stroke="#111" stroke-width="0.25">60</text>
<line x1="368.00" y1="183.60" x2="369.90" y2="183.60" stroke="#383838" stroke-width="1.15"/>
<text x="367.80" y="183.60" font-family="Liberation Serif" font-size="9.5" font-weight="bold" text-anchor="end" dominant-baseline="central" fill="#111" stroke="#111" stroke-width="0.25">40</text>
<line x1="368.00" y1="207.30" x2="369.90" y2="207.30" stroke="#383838" stroke-width="1.15"/>
<text x="367.80" y="207.30" font-family="Liberation Serif" font-size="9.5" font-weight="bold" text-anchor="end" dominant-baseline="central" fill="#111" stroke="#111" stroke-width="0.25">20</text>
<line x1="368.00" y1="231.00" x2="369.90" y2="231.00" stroke="#383838" stroke-width="1.15"/>
<text x="367.80" y="231.00" font-family="Liberation Serif" font-size="9.5" font-weight="bold" text-anchor="end" dominant-baseline="central" fill="#111" stroke="#111" stroke-width="0.25">0</text>
<line x1="374.10" y1="237.70" x2="374.10" y2="239.60" stroke="#383838" stroke-width="1.15"/>
<text x="374.10" y="245.80" font-family="Liberation Serif" font-size="9.5" font-weight="bold" text-anchor="middle" dominant-baseline="central" fill="#111" stroke="#111" stroke-width="0.25">0</text>
<line x1="396.50" y1="237.70" x2="396.50" y2="239.60" stroke="#383838" stroke-width="1.15"/>
<text x="396.50" y="245.80" font-family="Liberation Serif" font-size="9.5" font-weight="bold" text-anchor="middle" dominant-baseline="central" fill="#111" stroke="#111" stroke-width="0.25">5</text>
<line x1="418.90" y1="237.70" x2="418.90" y2="239.60" stroke="#383838" stroke-width="1.15"/>
<text x="418.90" y="245.80" font-family="Liberation Serif" font-size="9.5" font-weight="bold" text-anchor="middle" dominant-baseline="central" fill="#111" stroke="#111" stroke-width="0.25">10</text>
<line x1="441.30" y1="237.70" x2="441.30" y2="239.60" stroke="#383838" stroke-width="1.15"/>
<text x="441.30" y="245.80" font-family="Liberation Serif" font-size="9.5" font-weight="bold" text-anchor="middle" dominant-baseline="central" fill="#111" stroke="#111" stroke-width="0.25">15</text>
<line x1="463.70" y1="237.70" x2="463.70" y2="239.60" stroke="#383838" stroke-width="1.15"/>
<text x="463.70" y="245.80" font-family="Liberation Serif" font-size="9.5" font-weight="bold" text-anchor="middle" dominant-baseline="central" fill="#111" stroke="#111" stroke-width="0.25">20</text>
<line x1="486.10" y1="237.70" x2="486.10" y2="239.60" stroke="#383838" stroke-width="1.15"/>
<text x="486.10" y="245.80" font-family="Liberation Serif" font-size="9.5" font-weight="bold" text-anchor="middle" dominant-baseline="central" fill="#111" stroke="#111" stroke-width="0.25">25</text>
<text x="430.20" y="261.10" font-family="Liberation Serif" font-size="9.7" font-weight="bold" text-anchor="middle" dominant-baseline="central" fill="#111" stroke="#111" stroke-width="0.25">Time (S)</text>
<text x="0" y="0" transform="translate(349.2 191) rotate(-90)" font-family="Liberation Serif" font-size="10" font-weight="bold" text-anchor="middle" dominant-baseline="central" fill="#111">Q<tspan font-size="7" dy="2" font-style="italic">SC</tspan><tspan dy="-2"> (nW)</tspan></text>
<path d="M373.50,223.43 L373.60,222.16 L373.70,220.64 L373.80,218.79 L373.90,216.54 L374.00,213.77 L374.10,210.34 L374.20,206.09 L374.30,200.85 L374.40,194.50 L374.50,187.05 L374.60,178.89 L374.70,171.03 L374.80,165.10 L374.90,162.86 L375.00,165.10 L375.10,171.03 L375.20,178.89 L375.30,187.05 L375.40,194.50 L375.50,200.85 L375.60,206.09 L375.70,210.34 L375.80,213.77 L375.90,216.54 L376.00,218.79 L376.10,220.64 L376.20,222.16 L376.30,223.43 L376.40,224.49 L376.50,225.39 L376.60,226.15 L376.70,226.81 L376.80,227.37 L376.90,227.86 L377.00,228.29 L377.10,228.66 L377.20,229.00 L377.30,229.29 L377.40,229.55 L377.50,229.78 L377.60,229.99 L377.70,230.18 L377.80,230.35 L377.90,230.50 L378.00,230.64 L378.10,230.77 L378.20,230.89 L378.30,230.99 L378.40,231.09 L378.50,231.18 L378.60,231.27 L378.70,231.34 L378.80,231.41 L378.90,231.48 L379.00,231.54 L379.10,231.60 L379.20,231.65 L379.30,231.65 L379.40,231.60 L379.50,231.54 L379.60,231.48 L379.70,231.41 L379.80,231.34 L379.90,231.27 L380.00,231.18 L380.10,231.09 L380.20,230.99 L380.30,230.89 L380.40,230.77 L380.50,230.64 L380.60,230.50 L380.70,230.35 L380.80,230.18 L380.90,229.99 L381.00,229.78 L381.10,229.55 L381.20,229.29 L381.30,229.00 L381.40,228.66 L381.50,228.29 L381.60,227.86 L381.70,227.37 L381.80,226.81 L381.90,226.15 L382.00,225.39 L382.10,224.49 L382.20,223.43 L382.30,222.16 L382.40,220.64 L382.50,218.79 L382.60,216.54 L382.70,213.77 L382.80,210.34 L382.90,206.09 L383.00,200.85 L383.10,194.50 L383.20,187.05 L383.30,178.89 L383.40,171.03 L383.50,165.10 L383.60,162.86 L383.70,165.10 L383.80,171.03 L383.90,178.89 L384.00,187.05 L384.10,194.50 L384.20,200.85 L384.30,206.09 L384.40,210.34 L384.50,213.77 L384.60,216.54 L384.70,218.79 L384.80,220.64 L384.90,222.16 L385.00,223.43 L385.10,224.49 L385.20,225.39 L385.30,226.15 L385.40,226.81 L385.50,227.37 L385.60,227.86 L385.70,228.29 L385.80,228.66 L385.90,229.00 L386.00,229.29 L386.10,229.55 L386.20,229.78 L386.30,229.99 L386.40,230.18 L386.50,230.35 L386.60,230.50 L386.70,230.64 L386.80,230.77 L386.90,230.89 L387.00,230.99 L387.10,231.09 L387.20,231.18 L387.30,231.27 L387.40,231.34 L387.50,231.41 L387.60,231.48 L387.70,231.54 L387.80,231.60 L387.90,231.65 L388.00,231.70 L388.10,231.75 L388.20,231.70 L388.30,231.65 L388.40,231.60 L388.50,231.54 L388.60,231.48 L388.70,231.41 L388.80,231.34 L388.90,231.27 L389.00,231.18 L389.10,231.09 L389.20,230.99 L389.30,230.89 L389.40,230.77 L389.50,230.64 L389.60,230.50 L389.70,230.35 L389.80,230.18 L389.90,229.99 L390.00,229.78 L390.10,229.55 L390.20,229.29 L390.30,229.00 L390.40,228.66 L390.50,228.29 L390.60,227.86 L390.70,227.37 L390.80,226.81 L390.90,226.15 L391.00,225.39 L391.10,224.49 L391.20,223.43 L391.30,222.16 L391.40,220.64 L391.50,218.79 L391.60,216.54 L391.70,213.77 L391.80,210.34 L391.90,206.09 L392.00,200.85 L392.10,194.50 L392.20,187.05 L392.30,178.89 L392.40,171.03 L392.50,165.10 L392.60,162.86 L392.70,165.10 L392.80,171.03 L392.90,178.89 L393.00,187.05 L393.10,194.50 L393.20,200.85 L393.30,206.09 L393.40,210.34 L393.50,213.77 L393.60,216.54 L393.70,218.79 L393.80,220.64 L393.90,222.16 L394.00,223.43 L394.10,224.49 L394.20,225.39 L394.30,226.15 L394.40,226.81 L394.50,227.37 L394.60,227.86 L394.70,228.29 L394.80,228.66 L394.90,229.00 L395.00,229.29 L395.10,229.55 L395.20,229.78 L395.30,229.99 L395.40,230.18 L395.50,230.35 L395.60,230.50 L395.70,230.64 L395.80,230.77 L395.90,230.89 L396.00,230.99 L396.10,231.09 L396.20,231.18 L396.30,231.27 L396.40,231.34 L396.50,231.41" fill="none" stroke="#6a6a6a" stroke-width="0.9" stroke-linejoin="round"/>
<path d="M375.8,226.8525 Q376.6,233.133 378.3,233.133 L380.1,233.133 Q381.8,233.133 382.6,226.8525 Z" fill="#5a5a5a"/>
<path d="M384.6,226.8525 Q385.40000000000003,233.133 387.1,233.133 L389.1,233.133 Q390.8,233.133 391.6,226.8525 Z" fill="#5a5a5a"/>
<path d="M393.6,226.8525 Q394.40000000000003,233.133 396.1,233.133 L393.8,233.133 Q395.5,233.133 396.3,226.8525 Z" fill="#5a5a5a"/>
<path d="M396.50,230.02 L396.60,229.82 L396.70,229.60 L396.80,229.34 L396.90,229.04 L397.00,228.68 L397.10,228.26 L397.20,227.74 L397.30,227.12 L397.40,226.35 L397.50,225.38 L397.60,224.15 L397.70,222.56 L397.80,220.47 L397.90,217.66 L398.00,213.81 L398.10,208.45 L398.20,200.96 L398.30,190.76 L398.40,178.08 L398.50,165.89 L398.60,160.49 L398.70,165.89 L398.80,178.08 L398.90,190.76 L399.00,200.96 L399.10,208.45 L399.20,213.81 L399.30,217.66 L399.40,220.47 L399.50,222.56 L399.60,224.15 L399.70,225.38 L399.80,226.35 L399.90,227.12 L400.00,227.74 L400.10,228.26 L400.20,228.68 L400.30,229.04 L400.40,229.34 L400.50,229.60 L400.60,229.82 L400.70,230.02 L400.80,230.18 L400.90,230.18 L401.00,230.02 L401.10,229.82 L401.20,229.60 L401.30,229.34 L401.40,229.04 L401.50,228.68 L401.60,228.26 L401.70,227.74 L401.80,227.12 L401.90,226.35 L402.00,225.38 L402.10,224.15 L402.20,222.56 L402.30,220.47 L402.40,217.66 L402.50,213.81 L402.60,208.45 L402.70,200.96 L402.80,190.76 L402.90,178.08 L403.00,165.89 L403.10,160.49 L403.20,165.89 L403.30,178.08 L403.40,190.76 L403.50,200.96 L403.60,208.45 L403.70,213.81 L403.80,217.66 L403.90,220.47 L404.00,222.56 L404.10,224.15 L404.20,225.38 L404.30,226.35 L404.40,227.12 L404.50,227.74 L404.60,228.26 L404.70,228.68 L404.80,229.04 L404.90,229.34 L405.00,229.60 L405.10,229.82 L405.20,230.02 L405.30,230.18 L405.40,230.18 L405.50,230.02 L405.60,229.82 L405.70,229.60 L405.80,229.34 L405.90,229.04 L406.00,228.68 L406.10,228.26 L406.20,227.74 L406.30,227.12 L406.40,226.35 L406.50,225.38 L406.60,224.15 L406.70,222.56 L406.80,220.47 L406.90,217.66 L407.00,213.81 L407.10,208.45 L407.20,200.96 L407.30,190.76 L407.40,178.08 L407.50,165.89 L407.60,160.49 L407.70,165.89 L407.80,178.08 L407.90,190.76 L408.00,200.96 L408.10,208.45 L408.20,213.81 L408.30,217.66 L408.40,220.47 L408.50,222.56 L408.60,224.15 L408.70,225.38 L408.80,226.35 L408.90,227.12 L409.00,227.74 L409.10,228.26 L409.20,228.68 L409.30,229.04 L409.40,229.34 L409.50,229.60 L409.60,229.82 L409.70,230.02 L409.80,230.18 L409.90,230.18 L410.00,230.02 L410.10,229.82 L410.20,229.60 L410.30,229.34 L410.40,229.04 L410.50,228.68 L410.60,228.26 L410.70,227.74 L410.80,227.12 L410.90,226.35 L411.00,225.38 L411.10,224.15 L411.20,222.56 L411.30,220.47 L411.40,217.66 L411.50,213.81 L411.60,208.45 L411.70,200.96 L411.80,190.76 L411.90,178.08 L412.00,165.89 L412.10,160.49 L412.20,165.89 L412.30,178.08 L412.40,190.76 L412.50,200.96 L412.60,208.45 L412.70,213.81 L412.80,217.66 L412.90,220.47 L413.00,222.56 L413.10,224.15 L413.20,225.38 L413.30,226.35 L413.40,227.12 L413.50,227.74 L413.60,228.26 L413.70,228.68 L413.80,229.04 L413.90,229.34 L414.00,229.60 L414.10,229.82 L414.20,230.02 L414.30,230.18 L414.40,230.18 L414.50,230.02 L414.60,229.82 L414.70,229.60 L414.80,229.34 L414.90,229.04 L415.00,228.68 L415.10,228.26 L415.20,227.74 L415.30,227.12 L415.40,226.35 L415.50,225.38 L415.60,224.15 L415.70,222.56 L415.80,220.47 L415.90,217.66 L416.00,213.81 L416.10,208.45 L416.20,200.96 L416.30,190.76 L416.40,178.08 L416.50,165.89 L416.60,160.49 L416.70,165.89 L416.80,178.08 L416.90,190.76 L417.00,200.96 L417.10,208.45 L417.20,213.81 L417.30,217.66 L417.40,220.47 L417.50,222.56 L417.60,224.15 L417.70,225.38 L417.80,226.35 L417.90,227.12 L418.00,227.74 L418.10,228.26 L418.20,228.68 L418.30,229.04 L418.40,229.34 L418.50,229.60 L418.60,229.82 L418.70,230.02 L418.80,230.18" fill="none" stroke="#f23a3a" stroke-width="0.8" stroke-linejoin="round"/>
<path d="M418.90,228.50 L419.00,227.53 L419.10,226.17 L419.20,224.18 L419.30,221.14 L419.40,216.27 L419.50,208.10 L419.60,194.34 L419.70,174.77 L419.80,162.86 L419.90,174.77 L420.00,194.34 L420.10,208.10 L420.20,216.27 L420.30,221.14 L420.40,224.18 L420.50,226.17 L420.60,227.53 L420.70,228.50 L420.80,229.21 L420.90,229.75 L421.00,229.44 L421.10,228.81 L421.20,227.96 L421.30,226.77 L421.40,225.07 L421.50,222.52 L421.60,218.51 L421.70,211.89 L421.80,200.66 L421.90,182.91 L422.00,165.09 L422.10,167.68 L422.20,186.93 L422.30,203.40 L422.40,213.51 L422.50,219.47 L422.60,223.12 L422.70,225.47 L422.80,227.04 L422.90,228.15 L423.00,228.95 L423.10,229.55 L423.20,229.65 L423.30,229.08 L423.40,228.33 L423.50,227.30 L423.60,225.83 L423.70,223.67 L423.80,220.35 L423.90,214.96 L424.00,205.87 L424.10,190.76 L424.20,170.99 L424.30,163.43 L424.40,178.81 L424.50,197.64 L424.60,210.10 L424.70,217.45 L424.80,221.86 L424.90,224.64 L425.00,226.48 L425.10,227.75 L425.20,228.66 L425.30,229.33 L425.40,229.84 L425.50,229.33 L425.60,228.66 L425.70,227.75 L425.80,226.48 L425.90,224.64 L426.00,221.86 L426.10,217.45 L426.20,210.10 L426.30,197.64 L426.40,178.81 L426.50,163.43 L426.60,170.99 L426.70,190.76 L426.80,205.87 L426.90,214.96 L427.00,220.35 L427.10,223.67 L427.20,225.83 L427.30,227.30 L427.40,228.33 L427.50,229.08 L427.60,229.65 L427.70,229.55 L427.80,228.95 L427.90,228.15 L428.00,227.04 L428.10,225.47 L428.20,223.12 L428.30,219.47 L428.40,213.51 L428.50,203.40 L428.60,186.93 L428.70,167.68 L428.80,165.09 L428.90,182.91 L429.00,200.66 L429.10,211.89 L429.20,218.51 L429.30,222.52 L429.40,225.07 L429.50,226.77 L429.60,227.96 L429.70,228.81 L429.80,229.44 L429.90,229.75 L430.00,229.21 L430.10,228.50 L430.20,227.53 L430.30,226.17 L430.40,224.18 L430.50,221.14 L430.60,216.27 L430.70,208.10 L430.80,194.34 L430.90,174.77 L431.00,162.86 L431.10,174.77 L431.20,194.34 L431.30,208.10 L431.40,216.27 L431.50,221.14 L431.60,224.18 L431.70,226.17 L431.80,227.53 L431.90,228.50 L432.00,229.21 L432.10,229.75 L432.20,229.44 L432.30,228.81 L432.40,227.96 L432.50,226.77 L432.60,225.07 L432.70,222.52 L432.80,218.51 L432.90,211.89 L433.00,200.66 L433.10,182.91 L433.20,165.09 L433.30,167.68 L433.40,186.93 L433.50,203.40 L433.60,213.51 L433.70,219.47 L433.80,223.12 L433.90,225.47 L434.00,227.04 L434.10,228.15 L434.20,228.95 L434.30,229.55 L434.40,229.65 L434.50,229.08 L434.60,228.33 L434.70,227.30 L434.80,225.83 L434.90,223.67 L435.00,220.35 L435.10,214.96 L435.20,205.87 L435.30,190.76 L435.40,170.99 L435.50,163.43 L435.60,178.81 L435.70,197.64 L435.80,210.10 L435.90,217.45 L436.00,221.86 L436.10,224.64 L436.20,226.48 L436.30,227.75 L436.40,228.66 L436.50,229.33 L436.60,229.84 L436.70,229.33 L436.80,228.66 L436.90,227.75 L437.00,226.48 L437.10,224.64 L437.20,221.86 L437.30,217.45 L437.40,210.10 L437.50,197.64 L437.60,178.81 L437.70,163.43 L437.80,170.99 L437.90,190.76 L438.00,205.87 L438.10,214.96 L438.20,220.35 L438.30,223.67 L438.40,225.83 L438.50,227.30 L438.60,228.33 L438.70,229.08 L438.80,229.65 L438.90,229.55 L439.00,228.95 L439.10,228.15 L439.20,227.04 L439.30,225.47 L439.40,223.12 L439.50,219.47 L439.60,213.51 L439.70,203.40 L439.80,186.93 L439.90,167.68 L440.00,165.09 L440.10,182.91 L440.20,200.66 L440.30,211.89 L440.40,218.51 L440.50,222.52 L440.60,225.07 L440.70,226.77 L440.80,227.96 L440.90,228.81 L441.00,229.44 L441.10,229.92 L441.20,230.30 L441.30,230.60" fill="none" stroke="#1f86f0" stroke-width="0.9" stroke-linejoin="round"/>
<rect x="441.30" y="162.03" width="22.40" height="70.74" fill="#35d094"/>
<rect x="463.70" y="159.31" width="22.40" height="73.83" fill="#e88cf2"/>
<text x="383.73" y="154.47" font-family="Liberation Serif" font-size="7.2" font-weight="bold" text-anchor="middle" dominant-baseline="central" fill="#111" stroke="#111" stroke-width="0.25">0.5Hz</text>
<text x="408.15" y="154.47" font-family="Liberation Serif" font-size="7.2" font-weight="bold" text-anchor="middle" dominant-baseline="central" fill="#111" stroke="#111" stroke-width="0.25">1Hz</text>
<text x="430.10" y="154.47" font-family="Liberation Serif" font-size="7.2" font-weight="bold" text-anchor="middle" dominant-baseline="central" fill="#111" stroke="#111" stroke-width="0.25">2Hz</text>
<text x="451.60" y="154.47" font-family="Liberation Serif" font-size="7.2" font-weight="bold" text-anchor="middle" dominant-baseline="central" fill="#111" stroke="#111" stroke-width="0.25">3Hz</text>
<text x="474.45" y="154.47" font-family="Liberation Serif" font-size="7.2" font-weight="bold" text-anchor="middle" dominant-baseline="central" fill="#111" stroke="#111" stroke-width="0.25">4Hz</text>
<text x="5.50" y="269.20" font-family="Liberation Sans" font-size="14" font-weight="bold" text-anchor="start" dominant-baseline="central" fill="#111">(f)</text>
<rect x="36.5" y="283.7" width="117.4" height="91.90000000000003" fill="none" stroke="#383838" stroke-width="1.15"/>
<line x1="34.60" y1="283.80" x2="36.50" y2="283.80" stroke="#383838" stroke-width="1.15"/>
<text x="33.20" y="283.80" font-family="Liberation Serif" font-size="9.5" font-weight="bold" text-anchor="end" dominant-baseline="central" fill="#111" stroke="#111" stroke-width="0.25">400</text>
<line x1="34.60" y1="304.40" x2="36.50" y2="304.40" stroke="#383838" stroke-width="1.15"/>
<text x="33.20" y="304.40" font-family="Liberation Serif" font-size="9.5" font-weight="bold" text-anchor="end" dominant-baseline="central" fill="#111" stroke="#111" stroke-width="0.25">300</text>
<line x1="34.60" y1="325.00" x2="36.50" y2="325.00" stroke="#383838" stroke-width="1.15"/>
<text x="33.20" y="325.00" font-family="Liberation Serif" font-size="9.5" font-weight="bold" text-anchor="end" dominant-baseline="central" fill="#111" stroke="#111" stroke-width="0.25">200</text>
<line x1="34.60" y1="345.60" x2="36.50" y2="345.60" stroke="#383838" stroke-width="1.15"/>
<text x="33.20" y="345.60" font-family="Liberation Serif" font-size="9.5" font-weight="bold" text-anchor="end" dominant-baseline="central" fill="#111" stroke="#111" stroke-width="0.25">100</text>
<line x1="34.60" y1="366.20" x2="36.50" y2="366.20" stroke="#383838" stroke-width="1.15"/>
<text x="33.20" y="366.20" font-family="Liberation Serif" font-size="9.5" font-weight="bold" text-anchor="end" dominant-baseline="central" fill="#111" stroke="#111" stroke-width="0.25">0</text>
<line x1="45.80" y1="375.60" x2="45.80" y2="377.50" stroke="#383838" stroke-width="1.15"/>
<text x="45.80" y="384.30" font-family="Liberation Serif" font-size="9.5" font-weight="bold" text-anchor="middle" dominant-baseline="central" fill="#111" stroke="#111" stroke-width="0.25">0.1</text>
<line x1="74.20" y1="375.60" x2="74.20" y2="377.50" stroke="#383838" stroke-width="1.15"/>
<text x="74.20" y="384.30" font-family="Liberation Serif" font-size="9.5" font-weight="bold" text-anchor="middle" dominant-baseline="central" fill="#111" stroke="#111" stroke-width="0.25">1</text>
<line x1="102.60" y1="375.60" x2="102.60" y2="377.50" stroke="#383838" stroke-width="1.15"/>
<text x="102.60" y="384.30" font-family="Liberation Serif" font-size="9.5" font-weight="bold" text-anchor="middle" dominant-baseline="central" fill="#111" stroke="#111" stroke-width="0.25">10</text>
<line x1="131.00" y1="375.60" x2="131.00" y2="377.50" stroke="#383838" stroke-width="1.15"/>
<text x="131.00" y="384.30" font-family="Liberation Serif" font-size="9.5" font-weight="bold" text-anchor="middle" dominant-baseline="central" fill="#111" stroke="#111" stroke-width="0.25">100</text>
<text x="95.80" y="400.40" font-family="Liberation Serif" font-size="9.7" font-weight="bold" text-anchor="middle" dominant-baseline="central" fill="#111" stroke="#111" stroke-width="0.25">R (MΩ)</text>
<text x="11.90" y="329.60" font-family="Liberation Serif" font-size="10" font-weight="bold" text-anchor="middle" dominant-baseline="central" fill="#111" stroke="#111" stroke-width="0.25" transform="rotate(-90 11.9 329.6)">Power (μW)</text>
<path d="M45.80,365.79 C49.11,365.55 60.92,364.76 65.65,364.35 C70.38,363.93 70.52,364.24 74.20,363.32 C77.88,362.39 84.44,360.19 87.75,358.78 C91.06,357.38 92.31,356.07 94.05,354.87 C95.79,353.67 95.94,354.15 98.20,351.57 C100.46,349.00 104.61,344.30 107.60,339.42 C110.59,334.54 113.68,327.82 116.15,322.32 C118.63,316.83 120.83,310.20 122.45,306.46 C124.07,302.72 124.91,300.83 125.88,299.87 C126.84,298.91 127.39,299.80 128.25,300.69 C129.10,301.58 129.71,302.55 131.00,305.22 C132.29,307.90 133.74,310.10 136.00,316.76 C138.26,323.42 142.08,339.04 144.55,345.19 C147.03,351.33 149.80,352.23 150.85,353.63" fill="none" stroke="#cc129e" stroke-width="1.2"/>
<rect x="44.50" y="364.49" width="2.60" height="2.60" fill="#cc129e"/>
<rect x="64.35" y="363.05" width="2.60" height="2.60" fill="#cc129e"/>
<rect x="72.90" y="362.02" width="2.60" height="2.60" fill="#cc129e"/>
<rect x="86.45" y="357.48" width="2.60" height="2.60" fill="#cc129e"/>
<rect x="92.75" y="353.57" width="2.60" height="2.60" fill="#cc129e"/>
<rect x="96.90" y="350.27" width="2.60" height="2.60" fill="#cc129e"/>
<rect x="114.85" y="321.02" width="2.60" height="2.60" fill="#cc129e"/>
<rect x="125.30" y="292.39" width="2.60" height="2.60" fill="#cc129e"/>
<rect x="129.70" y="305.57" width="2.60" height="2.60" fill="#cc129e"/>
<rect x="143.25" y="343.89" width="2.60" height="2.60" fill="#cc129e"/>
<rect x="149.55" y="352.33" width="2.60" height="2.60" fill="#cc129e"/>
<text x="173.00" y="269.45" font-family="Liberation Sans" font-size="14" font-weight="bold" text-anchor="start" dominant-baseline="central" fill="#111">(g)</text>
<rect x="206.4" y="283.5" width="118.20000000000002" height="92.5" fill="none" stroke="#383838" stroke-width="1.15"/>
<line x1="204.50" y1="283.50" x2="206.40" y2="283.50" stroke="#383838" stroke-width="1.15"/>
<text x="203.60" y="283.50" font-family="Liberation Serif" font-size="9.5" font-weight="bold" text-anchor="end" dominant-baseline="central" fill="#111" stroke="#111" stroke-width="0.25">200</text>
<line x1="204.50" y1="304.10" x2="206.40" y2="304.10" stroke="#383838" stroke-width="1.15"/>
<text x="203.60" y="304.10" font-family="Liberation Serif" font-size="9.5" font-weight="bold" text-anchor="end" dominant-baseline="central" fill="#111" stroke="#111" stroke-width="0.25">150</text>
<line x1="204.50" y1="324.70" x2="206.40" y2="324.70" stroke="#383838" stroke-width="1.15"/>
<text x="203.60" y="324.70" font-family="Liberation Serif" font-size="9.5" font-weight="bold" text-anchor="end" dominant-baseline="central" fill="#111" stroke="#111" stroke-width="0.25">100</text>
<line x1="204.50" y1="345.30" x2="206.40" y2="345.30" stroke="#383838" stroke-width="1.15"/>
<text x="203.60" y="345.30" font-family="Liberation Serif" font-size="9.5" font-weight="bold" text-anchor="end" dominant-baseline="central" fill="#111" stroke="#111" stroke-width="0.25">50</text>
<line x1="204.50" y1="365.90" x2="206.40" y2="365.90" stroke="#383838" stroke-width="1.15"/>
<text x="203.60" y="365.90" font-family="Liberation Serif" font-size="9.5" font-weight="bold" text-anchor="end" dominant-baseline="central" fill="#111" stroke="#111" stroke-width="0.25">0</text>
<line x1="214.20" y1="376.00" x2="214.20" y2="377.90" stroke="#383838" stroke-width="1.15"/>
<text x="214.20" y="384.30" font-family="Liberation Serif" font-size="9.5" font-weight="bold" text-anchor="middle" dominant-baseline="central" fill="#111" stroke="#111" stroke-width="0.25">0</text>
<line x1="228.81" y1="376.00" x2="228.81" y2="377.90" stroke="#383838" stroke-width="1.15"/>
<text x="228.81" y="384.30" font-family="Liberation Serif" font-size="9.5" font-weight="bold" text-anchor="middle" dominant-baseline="central" fill="#111" stroke="#111" stroke-width="0.25">10</text>
<line x1="243.42" y1="376.00" x2="243.42" y2="377.90" stroke="#383838" stroke-width="1.15"/>
<text x="243.42" y="384.30" font-family="Liberation Serif" font-size="9.5" font-weight="bold" text-anchor="middle" dominant-baseline="central" fill="#111" stroke="#111" stroke-width="0.25">20</text>
<line x1="258.03" y1="376.00" x2="258.03" y2="377.90" stroke="#383838" stroke-width="1.15"/>
<text x="258.03" y="384.30" font-family="Liberation Serif" font-size="9.5" font-weight="bold" text-anchor="middle" dominant-baseline="central" fill="#111" stroke="#111" stroke-width="0.25">30</text>
<line x1="272.64" y1="376.00" x2="272.64" y2="377.90" stroke="#383838" stroke-width="1.15"/>
<text x="272.64" y="384.30" font-family="Liberation Serif" font-size="9.5" font-weight="bold" text-anchor="middle" dominant-baseline="central" fill="#111" stroke="#111" stroke-width="0.25">40</text>
<line x1="287.25" y1="376.00" x2="287.25" y2="377.90" stroke="#383838" stroke-width="1.15"/>
<text x="287.25" y="384.30" font-family="Liberation Serif" font-size="9.5" font-weight="bold" text-anchor="middle" dominant-baseline="central" fill="#111" stroke="#111" stroke-width="0.25">50</text>
<line x1="301.86" y1="376.00" x2="301.86" y2="377.90" stroke="#383838" stroke-width="1.15"/>
<text x="301.86" y="384.30" font-family="Liberation Serif" font-size="9.5" font-weight="bold" text-anchor="middle" dominant-baseline="central" fill="#111" stroke="#111" stroke-width="0.25">60</text>
<line x1="316.47" y1="376.00" x2="316.47" y2="377.90" stroke="#383838" stroke-width="1.15"/>
<text x="316.47" y="384.30" font-family="Liberation Serif" font-size="9.5" font-weight="bold" text-anchor="middle" dominant-baseline="central" fill="#111" stroke="#111" stroke-width="0.25">70</text>
<text x="271.00" y="399.80" font-family="Liberation Serif" font-size="9.7" font-weight="bold" text-anchor="middle" dominant-baseline="central" fill="#111" stroke="#111" stroke-width="0.25">Time (S)</text>
<text x="180.60" y="326.70" font-family="Liberation Serif" font-size="9.8" font-weight="bold" text-anchor="middle" dominant-baseline="central" fill="#111" stroke="#111" stroke-width="0.25" transform="rotate(-90 180.6 326.7)">Voltage (V)</text>
<linearGradient id="bg0" x1="0" y1="0" x2="0" y2="1"><stop offset="0" stop-color="#6e6e6e"/><stop offset="1" stop-color="#a8a8a8"/></linearGradient>
<rect x="214.00" y="346.80" width="14.90" height="19.20" fill="url(#bg0)"/>
<rect x="214.00" y="346.80" width="14.90" height="2.00" fill="#6e6e6e"/>
<rect x="214.00" y="348.80" width="14.90" height="17.20" fill="url(#vstripe)"/>
<text x="219.80" y="342.00" font-family="Liberation Serif" font-size="7.2" font-weight="bold" text-anchor="middle" dominant-baseline="central" fill="#222" stroke="#222" stroke-width="0.25">1N</text>
<linearGradient id="bg1" x1="0" y1="0" x2="0" y2="1"><stop offset="0" stop-color="#ff5656"/><stop offset="1" stop-color="#ffa0a0"/></linearGradient>
<rect x="231.30" y="338.40" width="14.70" height="27.60" fill="url(#bg1)"/>
<rect x="231.30" y="338.40" width="14.70" height="2.00" fill="#ff5656"/>
<rect x="231.30" y="340.40" width="14.70" height="25.60" fill="url(#vstripe)"/>
<text x="237.20" y="333.70" font-family="Liberation Serif" font-size="7.2" font-weight="bold" text-anchor="middle" dominant-baseline="central" fill="#ff1010" stroke="#ff1010" stroke-width="0.25">5N</text>
<linearGradient id="bg2" x1="0" y1="0" x2="0" y2="1"><stop offset="0" stop-color="#1f80ee"/><stop offset="1" stop-color="#5aa8f2"/></linearGradient>
<rect x="248.70" y="309.60" width="15.30" height="56.40" fill="url(#bg2)"/>
<rect x="248.70" y="309.60" width="15.30" height="2.00" fill="#1f80ee"/>
<rect x="248.70" y="311.60" width="15.30" height="54.40" fill="url(#vstripe)"/>
<text x="255.10" y="303.10" font-family="Liberation Serif" font-size="7.2" font-weight="bold" text-anchor="middle" dominant-baseline="central" fill="#2020ee" stroke="#2020ee" stroke-width="0.25">10N</text>
<linearGradient id="bg3" x1="0" y1="0" x2="0" y2="1"><stop offset="0" stop-color="#1fc48c"/><stop offset="1" stop-color="#46d4a4"/></linearGradient>
<rect x="266.60" y="304.30" width="15.20" height="61.70" fill="url(#bg3)"/>
<rect x="266.60" y="304.30" width="15.20" height="2.00" fill="#1fc48c"/>
<rect x="266.60" y="306.30" width="15.20" height="59.70" fill="url(#vstripe)"/>
<text x="273.00" y="297.90" font-family="Liberation Serif" font-size="7.2" font-weight="bold" text-anchor="middle" dominant-baseline="central" fill="#10a8a8" stroke="#10a8a8" stroke-width="0.25">20N</text>
<linearGradient id="bg4" x1="0" y1="0" x2="0" y2="1"><stop offset="0" stop-color="#e28cf0"/><stop offset="1" stop-color="#eaa8f4"/></linearGradient>
<rect x="284.50" y="301.50" width="14.80" height="64.50" fill="url(#bg4)"/>
<rect x="284.50" y="301.50" width="14.80" height="2.00" fill="#e28cf0"/>
<rect x="284.50" y="303.50" width="14.80" height="62.50" fill="url(#vstripe)"/>
<text x="290.40" y="295.30" font-family="Liberation Serif" font-size="7.2" font-weight="bold" text-anchor="middle" dominant-baseline="central" fill="#c030e0" stroke="#c030e0" stroke-width="0.25">30N</text>
<linearGradient id="bg5" x1="0" y1="0" x2="0" y2="1"><stop offset="0" stop-color="#ffbd10"/><stop offset="1" stop-color="#ffcc48"/></linearGradient>
<rect x="301.70" y="300.30" width="15.00" height="65.70" fill="url(#bg5)"/>
<rect x="301.70" y="300.30" width="15.00" height="2.00" fill="#ffbd10"/>
<rect x="301.70" y="302.30" width="15.00" height="63.70" fill="url(#vstripe)"/>
<text x="307.60" y="294.00" font-family="Liberation Serif" font-size="7.2" font-weight="bold" text-anchor="middle" dominant-baseline="central" fill="#f5b000" stroke="#f5b000" stroke-width="0.25">40N</text>
<text x="344.00" y="269.45" font-family="Liberation Sans" font-size="14" font-weight="bold" text-anchor="start" dominant-baseline="central" fill="#111">(h)</text>
<rect x="370.4" y="283.3" width="120.30000000000001" height="92.89999999999998" fill="none" stroke="#383838" stroke-width="1.15"/>
<line x1="368.50" y1="283.40" x2="370.40" y2="283.40" stroke="#383838" stroke-width="1.15"/>
<text x="367.60" y="283.40" font-family="Liberation Serif" font-size="9.5" font-weight="bold" text-anchor="end" dominant-baseline="central" fill="#111" stroke="#111" stroke-width="0.25">200</text>
<line x1="368.50" y1="304.00" x2="370.40" y2="304.00" stroke="#383838" stroke-width="1.15"/>
<text x="367.60" y="304.00" font-family="Liberation Serif" font-size="9.5" font-weight="bold" text-anchor="end" dominant-baseline="central" fill="#111" stroke="#111" stroke-width="0.25">150</text>
<line x1="368.50" y1="324.60" x2="370.40" y2="324.60" stroke="#383838" stroke-width="1.15"/>
<text x="367.60" y="324.60" font-family="Liberation Serif" font-size="9.5" font-weight="bold" text-anchor="end" dominant-baseline="central" fill="#111" stroke="#111" stroke-width="0.25">100</text>
<line x1="368.50" y1="345.20" x2="370.40" y2="345.20" stroke="#383838" stroke-width="1.15"/>
<text x="367.60" y="345.20" font-family="Liberation Serif" font-size="9.5" font-weight="bold" text-anchor="end" dominant-baseline="central" fill="#111" stroke="#111" stroke-width="0.25">50</text>
<line x1="368.50" y1="365.80" x2="370.40" y2="365.80" stroke="#383838" stroke-width="1.15"/>
<text x="367.60" y="365.80" font-family="Liberation Serif" font-size="9.5" font-weight="bold" text-anchor="end" dominant-baseline="central" fill="#111" stroke="#111" stroke-width="0.25">0</text>
<line x1="376.60" y1="376.20" x2="376.60" y2="378.10" stroke="#383838" stroke-width="1.15"/>
<text x="376.60" y="384.30" font-family="Liberation Serif" font-size="9.5" font-weight="bold" text-anchor="middle" dominant-baseline="central" fill="#111" stroke="#111" stroke-width="0.25">0</text>
<line x1="399.30" y1="376.20" x2="399.30" y2="378.10" stroke="#383838" stroke-width="1.15"/>
<text x="399.30" y="384.30" font-family="Liberation Serif" font-size="9.5" font-weight="bold" text-anchor="middle" dominant-baseline="central" fill="#111" stroke="#111" stroke-width="0.25">10</text>
<line x1="422.00" y1="376.20" x2="422.00" y2="378.10" stroke="#383838" stroke-width="1.15"/>
<text x="422.00" y="384.30" font-family="Liberation Serif" font-size="9.5" font-weight="bold" text-anchor="middle" dominant-baseline="central" fill="#111" stroke="#111" stroke-width="0.25">20</text>
<line x1="444.70" y1="376.20" x2="444.70" y2="378.10" stroke="#383838" stroke-width="1.15"/>
<text x="444.70" y="384.30" font-family="Liberation Serif" font-size="9.5" font-weight="bold" text-anchor="middle" dominant-baseline="central" fill="#111" stroke="#111" stroke-width="0.25">30</text>
<line x1="467.40" y1="376.20" x2="467.40" y2="378.10" stroke="#383838" stroke-width="1.15"/>
<text x="467.40" y="384.30" font-family="Liberation Serif" font-size="9.5" font-weight="bold" text-anchor="middle" dominant-baseline="central" fill="#111" stroke="#111" stroke-width="0.25">40</text>
<line x1="490.10" y1="376.20" x2="490.10" y2="378.10" stroke="#383838" stroke-width="1.15"/>
<text x="490.10" y="384.30" font-family="Liberation Serif" font-size="9.5" font-weight="bold" text-anchor="middle" dominant-baseline="central" fill="#111" stroke="#111" stroke-width="0.25">50</text>
<text x="433.40" y="400.40" font-family="Liberation Serif" font-size="9.7" font-weight="bold" text-anchor="middle" dominant-baseline="central" fill="#111" stroke="#111" stroke-width="0.25">Time (S)</text>
<text x="343.90" y="328.40" font-family="Liberation Serif" font-size="9.8" font-weight="bold" text-anchor="middle" dominant-baseline="central" fill="#111" stroke="#111" stroke-width="0.25" transform="rotate(-90 343.9 328.4)">Voltage (V)</text>
<rect x="376.50" y="293.70" width="11.40" height="72.30" fill="#555" opacity="0.2"/>
<rect x="376.50" y="293.70" width="11.40" height="2.20" fill="#555"/>
<line x1="377.30" y1="293.70" x2="377.30" y2="366.00" stroke="#555" stroke-width="1.45"/>
<line x1="379.75" y1="293.70" x2="379.75" y2="366.00" stroke="#555" stroke-width="1.45"/>
<line x1="382.20" y1="293.70" x2="382.20" y2="366.00" stroke="#555" stroke-width="1.45"/>
<line x1="384.65" y1="293.70" x2="384.65" y2="366.00" stroke="#555" stroke-width="1.45"/>
<line x1="387.10" y1="293.70" x2="387.10" y2="366.00" stroke="#555" stroke-width="1.45"/>
<text x="382.20" y="289.40" font-family="Liberation Serif" font-size="6.4" font-weight="bold" text-anchor="middle" dominant-baseline="central" fill="#555" stroke="#555" stroke-width="0.25" textLength="10.8" lengthAdjust="spacingAndGlyphs">19%</text>
<rect x="389.80" y="297.50" width="11.90" height="68.50" fill="#f23030" opacity="0.2"/>
<rect x="389.80" y="297.50" width="11.90" height="2.20" fill="#f23030"/>
<line x1="390.60" y1="297.50" x2="390.60" y2="366.00" stroke="#f23030" stroke-width="1.45"/>
<line x1="393.18" y1="297.50" x2="393.18" y2="366.00" stroke="#f23030" stroke-width="1.45"/>
<line x1="395.75" y1="297.50" x2="395.75" y2="366.00" stroke="#f23030" stroke-width="1.45"/>
<line x1="398.32" y1="297.50" x2="398.32" y2="366.00" stroke="#f23030" stroke-width="1.45"/>
<line x1="400.90" y1="297.50" x2="400.90" y2="366.00" stroke="#f23030" stroke-width="1.45"/>
<text x="395.75" y="293.20" font-family="Liberation Serif" font-size="6.4" font-weight="bold" text-anchor="middle" dominant-baseline="central" fill="#ee2a2a" stroke="#ee2a2a" stroke-width="0.25" textLength="10.8" lengthAdjust="spacingAndGlyphs">37%</text>
<rect x="403.60" y="299.80" width="11.90" height="66.20" fill="#2a7ff0" opacity="0.2"/>
<rect x="413.70" y="299.80" width="2.00" height="13.20" fill="#2a7ff0"/>
<rect x="403.60" y="299.80" width="11.90" height="2.20" fill="#2a7ff0"/>
<line x1="404.40" y1="299.80" x2="404.40" y2="366.00" stroke="#2a7ff0" stroke-width="1.45"/>
<line x1="406.98" y1="299.80" x2="406.98" y2="366.00" stroke="#2a7ff0" stroke-width="1.45"/>
<line x1="409.55" y1="299.80" x2="409.55" y2="366.00" stroke="#2a7ff0" stroke-width="1.45"/>
<line x1="412.12" y1="299.80" x2="412.12" y2="366.00" stroke="#2a7ff0" stroke-width="1.45"/>
<line x1="414.70" y1="299.80" x2="414.70" y2="366.00" stroke="#2a7ff0" stroke-width="1.45"/>
<text x="409.55" y="295.50" font-family="Liberation Serif" font-size="6.4" font-weight="bold" text-anchor="middle" dominant-baseline="central" fill="#2a5cf0" stroke="#2a5cf0" stroke-width="0.25" textLength="10.8" lengthAdjust="spacingAndGlyphs">55%</text>
<rect x="417.00" y="304.30" width="11.70" height="61.70" fill="#17b36a" opacity="0.2"/>
<rect x="417.00" y="304.30" width="11.70" height="2.20" fill="#17b36a"/>
<line x1="417.80" y1="304.30" x2="417.80" y2="366.00" stroke="#17b36a" stroke-width="1.45"/>
<line x1="420.32" y1="304.30" x2="420.32" y2="366.00" stroke="#17b36a" stroke-width="1.45"/>
<line x1="422.85" y1="304.30" x2="422.85" y2="366.00" stroke="#17b36a" stroke-width="1.45"/>
<line x1="425.38" y1="304.30" x2="425.38" y2="366.00" stroke="#17b36a" stroke-width="1.45"/>
<line x1="427.90" y1="304.30" x2="427.90" y2="366.00" stroke="#17b36a" stroke-width="1.45"/>
<text x="422.85" y="300.00" font-family="Liberation Serif" font-size="6.4" font-weight="bold" text-anchor="middle" dominant-baseline="central" fill="#14a060" stroke="#14a060" stroke-width="0.25" textLength="10.8" lengthAdjust="spacingAndGlyphs">58%</text>
<rect x="430.80" y="307.80" width="11.90" height="58.20" fill="#e07ff0" opacity="0.2"/>
<rect x="430.80" y="307.80" width="11.90" height="2.20" fill="#e07ff0"/>
<line x1="431.60" y1="307.80" x2="431.60" y2="366.00" stroke="#e07ff0" stroke-width="1.45"/>
<line x1="434.18" y1="307.80" x2="434.18" y2="366.00" stroke="#e07ff0" stroke-width="1.45"/>
<line x1="436.75" y1="307.80" x2="436.75" y2="366.00" stroke="#e07ff0" stroke-width="1.45"/>
<line x1="439.32" y1="307.80" x2="439.32" y2="366.00" stroke="#e07ff0" stroke-width="1.45"/>
<line x1="441.90" y1="307.80" x2="441.90" y2="366.00" stroke="#e07ff0" stroke-width="1.45"/>
<text x="436.75" y="303.50" font-family="Liberation Serif" font-size="6.4" font-weight="bold" text-anchor="middle" dominant-baseline="central" fill="#c858e8" stroke="#c858e8" stroke-width="0.25" textLength="10.8" lengthAdjust="spacingAndGlyphs">67%</text>
<rect x="444.60" y="311.20" width="11.30" height="54.80" fill="#ffb000" opacity="0.2"/>
<rect x="444.60" y="311.20" width="11.30" height="2.20" fill="#ffb000"/>
<line x1="445.40" y1="311.20" x2="445.40" y2="366.00" stroke="#ffb000" stroke-width="1.45"/>
<line x1="447.83" y1="311.20" x2="447.83" y2="366.00" stroke="#ffb000" stroke-width="1.45"/>
<line x1="450.25" y1="311.20" x2="450.25" y2="366.00" stroke="#ffb000" stroke-width="1.45"/>
<line x1="452.68" y1="311.20" x2="452.68" y2="366.00" stroke="#ffb000" stroke-width="1.45"/>
<line x1="455.10" y1="311.20" x2="455.10" y2="366.00" stroke="#ffb000" stroke-width="1.45"/>
<text x="450.25" y="306.90" font-family="Liberation Serif" font-size="6.4" font-weight="bold" text-anchor="middle" dominant-baseline="central" fill="#f0a030" stroke="#f0a030" stroke-width="0.25" textLength="10.8" lengthAdjust="spacingAndGlyphs">74%</text>
<rect x="457.80" y="312.30" width="11.40" height="53.70" fill="#22e0e8" opacity="0.2"/>
<rect x="457.80" y="312.30" width="11.40" height="2.20" fill="#22e0e8"/>
<line x1="458.60" y1="312.30" x2="458.60" y2="366.00" stroke="#22e0e8" stroke-width="1.45"/>
<line x1="461.05" y1="312.30" x2="461.05" y2="366.00" stroke="#22e0e8" stroke-width="1.45"/>
<line x1="463.50" y1="312.30" x2="463.50" y2="366.00" stroke="#22e0e8" stroke-width="1.45"/>
<line x1="465.95" y1="312.30" x2="465.95" y2="366.00" stroke="#22e0e8" stroke-width="1.45"/>
<line x1="468.40" y1="312.30" x2="468.40" y2="366.00" stroke="#22e0e8" stroke-width="1.45"/>
<text x="463.50" y="308.00" font-family="Liberation Serif" font-size="6.4" font-weight="bold" text-anchor="middle" dominant-baseline="central" fill="#28c8e0" stroke="#28c8e0" stroke-width="0.25" textLength="10.8" lengthAdjust="spacingAndGlyphs">80%</text>
<rect x="471.80" y="315.20" width="11.40" height="50.80" fill="#b07070" opacity="0.2"/>
<rect x="471.80" y="315.20" width="11.40" height="2.20" fill="#b07070"/>
<line x1="472.60" y1="315.20" x2="472.60" y2="366.00" stroke="#b07070" stroke-width="1.45"/>
<line x1="475.05" y1="315.20" x2="475.05" y2="366.00" stroke="#b07070" stroke-width="1.45"/>
<line x1="477.50" y1="315.20" x2="477.50" y2="366.00" stroke="#b07070" stroke-width="1.45"/>
<line x1="479.95" y1="315.20" x2="479.95" y2="366.00" stroke="#b07070" stroke-width="1.45"/>
<line x1="482.40" y1="315.20" x2="482.40" y2="366.00" stroke="#b07070" stroke-width="1.45"/>
<text x="477.50" y="310.90" font-family="Liberation Serif" font-size="6.4" font-weight="bold" text-anchor="middle" dominant-baseline="central" fill="#c88040" stroke="#c88040" stroke-width="0.25" textLength="10.8" lengthAdjust="spacingAndGlyphs">85%</text>
<text x="5.50" y="410.10" font-family="Liberation Sans" font-size="14" font-weight="bold" text-anchor="start" dominant-baseline="central" fill="#111">(i)</text>
<rect x="36.6" y="421.2" width="116.80000000000001" height="93.90000000000003" fill="none" stroke="#383838" stroke-width="1.15"/>
<line x1="34.70" y1="429.80" x2="36.60" y2="429.80" stroke="#383838" stroke-width="1.15"/>
<text x="33.20" y="429.80" font-family="Liberation Serif" font-size="9.5" font-weight="bold" text-anchor="end" dominant-baseline="central" fill="#111" stroke="#111" stroke-width="0.25">200</text>
<line x1="34.70" y1="448.90" x2="36.60" y2="448.90" stroke="#383838" stroke-width="1.15"/>
<text x="33.20" y="448.90" font-family="Liberation Serif" font-size="9.5" font-weight="bold" text-anchor="end" dominant-baseline="central" fill="#111" stroke="#111" stroke-width="0.25">150</text>
<line x1="34.70" y1="468.00" x2="36.60" y2="468.00" stroke="#383838" stroke-width="1.15"/>
<text x="33.20" y="468.00" font-family="Liberation Serif" font-size="9.5" font-weight="bold" text-anchor="end" dominant-baseline="central" fill="#111" stroke="#111" stroke-width="0.25">100</text>
<line x1="34.70" y1="487.10" x2="36.60" y2="487.10" stroke="#383838" stroke-width="1.15"/>
<text x="33.20" y="487.10" font-family="Liberation Serif" font-size="9.5" font-weight="bold" text-anchor="end" dominant-baseline="central" fill="#111" stroke="#111" stroke-width="0.25">50</text>
<line x1="34.70" y1="506.20" x2="36.60" y2="506.20" stroke="#383838" stroke-width="1.15"/>
<text x="33.20" y="506.20" font-family="Liberation Serif" font-size="9.5" font-weight="bold" text-anchor="end" dominant-baseline="central" fill="#111" stroke="#111" stroke-width="0.25">0</text>
<line x1="48.40" y1="515.10" x2="48.40" y2="517.00" stroke="#383838" stroke-width="1.15"/>
<text x="48.40" y="522.90" font-family="Liberation Serif" font-size="9.5" font-weight="bold" text-anchor="middle" dominant-baseline="central" fill="#111" stroke="#111" stroke-width="0.25">0</text>
<line x1="71.95" y1="515.10" x2="71.95" y2="517.00" stroke="#383838" stroke-width="1.15"/>
<text x="71.95" y="522.90" font-family="Liberation Serif" font-size="9.5" font-weight="bold" text-anchor="middle" dominant-baseline="central" fill="#111" stroke="#111" stroke-width="0.25">10</text>
<line x1="95.50" y1="515.10" x2="95.50" y2="517.00" stroke="#383838" stroke-width="1.15"/>
<text x="95.50" y="522.90" font-family="Liberation Serif" font-size="9.5" font-weight="bold" text-anchor="middle" dominant-baseline="central" fill="#111" stroke="#111" stroke-width="0.25">20</text>
<line x1="119.05" y1="515.10" x2="119.05" y2="517.00" stroke="#383838" stroke-width="1.15"/>
<text x="119.05" y="522.90" font-family="Liberation Serif" font-size="9.5" font-weight="bold" text-anchor="middle" dominant-baseline="central" fill="#111" stroke="#111" stroke-width="0.25">30</text>
<line x1="142.60" y1="515.10" x2="142.60" y2="517.00" stroke="#383838" stroke-width="1.15"/>
<text x="142.60" y="522.90" font-family="Liberation Serif" font-size="9.5" font-weight="bold" text-anchor="middle" dominant-baseline="central" fill="#111" stroke="#111" stroke-width="0.25">40</text>
<text x="103.70" y="539.60" font-family="Liberation Serif" font-size="9.7" font-weight="bold" text-anchor="middle" dominant-baseline="central" fill="#111" stroke="#111" stroke-width="0.25">Time (S)</text>
<text x="9.40" y="465.50" font-family="Liberation Serif" font-size="9.8" font-weight="bold" text-anchor="middle" dominant-baseline="central" fill="#111" stroke="#111" stroke-width="0.25" transform="rotate(-90 9.4 465.5)">Voltage (V)</text>
<line x1="50.70" y1="428.50" x2="68.00" y2="428.50" stroke="#555" stroke-width="0.9"/>
<text x="69.80" y="428.60" font-family="Liberation Serif" font-size="7.2" font-weight="bold" text-anchor="start" dominant-baseline="central" fill="#111" stroke="#111" stroke-width="0.25">Before washing</text>
<line x1="50.70" y1="437.80" x2="68.00" y2="437.80" stroke="#f25050" stroke-width="1.6"/>
<text x="69.80" y="438.20" font-family="Liberation Serif" font-size="7.2" font-weight="bold" text-anchor="start" dominant-baseline="central" fill="#111" stroke="#111" stroke-width="0.25">After washing</text>
<rect x="48.60" y="446.40" width="46.70" height="59.80" fill="#d2d2d2"/>
<rect x="48.60" y="446.40" width="46.70" height="10.10" fill="#9c9c9c"/>
<rect x="48.20" y="446.40" width="1.00" height="11.60" fill="#777"/>
<line x1="49.60" y1="446.40" x2="49.60" y2="506.20" stroke="#5a5a5a" stroke-width="1.15"/>
<line x1="52.13" y1="446.40" x2="52.13" y2="506.20" stroke="#5a5a5a" stroke-width="1.15"/>
<line x1="54.66" y1="446.40" x2="54.66" y2="506.20" stroke="#5a5a5a" stroke-width="1.15"/>
<line x1="57.19" y1="446.40" x2="57.19" y2="506.20" stroke="#5a5a5a" stroke-width="1.15"/>
<line x1="59.72" y1="446.40" x2="59.72" y2="506.20" stroke="#5a5a5a" stroke-width="1.15"/>
<line x1="62.25" y1="446.40" x2="62.25" y2="506.20" stroke="#5a5a5a" stroke-width="1.15"/>
<line x1="64.78" y1="446.40" x2="64.78" y2="506.20" stroke="#5a5a5a" stroke-width="1.15"/>
<line x1="67.31" y1="446.40" x2="67.31" y2="506.20" stroke="#5a5a5a" stroke-width="1.15"/>
<line x1="69.84" y1="446.40" x2="69.84" y2="506.20" stroke="#5a5a5a" stroke-width="1.15"/>
<line x1="72.37" y1="446.40" x2="72.37" y2="506.20" stroke="#5a5a5a" stroke-width="1.15"/>
<line x1="74.90" y1="446.40" x2="74.90" y2="506.20" stroke="#5a5a5a" stroke-width="1.15"/>
<line x1="77.43" y1="446.40" x2="77.43" y2="506.20" stroke="#5a5a5a" stroke-width="1.15"/>
<line x1="79.96" y1="446.40" x2="79.96" y2="506.20" stroke="#5a5a5a" stroke-width="1.15"/>
<line x1="82.49" y1="446.40" x2="82.49" y2="506.20" stroke="#5a5a5a" stroke-width="1.15"/>
<line x1="85.02" y1="446.40" x2="85.02" y2="506.20" stroke="#5a5a5a" stroke-width="1.15"/>
<line x1="87.55" y1="446.40" x2="87.55" y2="506.20" stroke="#5a5a5a" stroke-width="1.15"/>
<line x1="90.08" y1="446.40" x2="90.08" y2="506.20" stroke="#5a5a5a" stroke-width="1.15"/>
<line x1="92.61" y1="446.40" x2="92.61" y2="506.20" stroke="#5a5a5a" stroke-width="1.15"/>
<line x1="95.14" y1="446.40" x2="95.14" y2="506.20" stroke="#5a5a5a" stroke-width="1.15"/>
<line x1="95.60" y1="482.00" x2="95.60" y2="506.20" stroke="#333" stroke-width="0.9"/>
<rect x="99.80" y="448.30" width="47.40" height="57.90" fill="#ffd0d0"/>
<path d="M99.8,449.5 L99.80,448.30 L100.95,449.20 L102.10,448.30 L103.25,449.20 L104.40,448.30 L105.55,449.20 L106.70,448.30 L107.85,449.20 L109.00,448.30 L110.15,449.20 L111.30,448.30 L112.45,449.20 L113.60,448.30 L114.75,449.20 L115.90,448.30 L117.05,449.20 L118.20,448.30 L119.35,449.20 L120.50,448.30 L121.65,449.20 L122.80,448.30 L123.95,449.20 L125.10,448.30 L126.25,449.20 L127.40,448.30 L128.55,449.20 L129.70,448.30 L130.85,449.20 L132.00,448.30 L133.15,449.20 L134.30,448.30 L135.45,449.20 L136.60,448.30 L137.75,449.20 L138.90,448.30 L140.05,449.20 L141.20,448.30 L142.35,449.20 L143.50,448.30 L144.65,449.20 L145.80,448.30 L146.95,449.20 L147.2,449.5 Z" fill="#ff6060"/>
<line x1="100.60" y1="448.30" x2="100.60" y2="506.20" stroke="#ff4848" stroke-width="1.0"/>
<line x1="102.90" y1="448.30" x2="102.90" y2="506.20" stroke="#ff4848" stroke-width="1.0"/>
<line x1="105.20" y1="448.30" x2="105.20" y2="506.20" stroke="#ff4848" stroke-width="1.0"/>
<line x1="107.50" y1="448.30" x2="107.50" y2="506.20" stroke="#ff4848" stroke-width="1.0"/>
<line x1="109.80" y1="448.30" x2="109.80" y2="506.20" stroke="#ff4848" stroke-width="1.0"/>
<line x1="112.10" y1="448.30" x2="112.10" y2="506.20" stroke="#ff4848" stroke-width="1.0"/>
<line x1="114.40" y1="448.30" x2="114.40" y2="506.20" stroke="#ff4848" stroke-width="1.0"/>
<line x1="116.70" y1="448.30" x2="116.70" y2="506.20" stroke="#ff4848" stroke-width="1.0"/>
<line x1="119.00" y1="448.30" x2="119.00" y2="506.20" stroke="#ff4848" stroke-width="1.0"/>
<line x1="121.30" y1="448.30" x2="121.30" y2="506.20" stroke="#ff4848" stroke-width="1.0"/>
<line x1="123.60" y1="448.30" x2="123.60" y2="506.20" stroke="#ff4848" stroke-width="1.0"/>
<line x1="125.90" y1="448.30" x2="125.90" y2="506.20" stroke="#ff4848" stroke-width="1.0"/>
<line x1="128.20" y1="448.30" x2="128.20" y2="506.20" stroke="#ff4848" stroke-width="1.0"/>
<line x1="130.50" y1="448.30" x2="130.50" y2="506.20" stroke="#ff4848" stroke-width="1.0"/>
<line x1="132.80" y1="448.30" x2="132.80" y2="506.20" stroke="#ff4848" stroke-width="1.0"/>
<line x1="135.10" y1="448.30" x2="135.10" y2="506.20" stroke="#ff4848" stroke-width="1.0"/>
<line x1="137.40" y1="448.30" x2="137.40" y2="506.20" stroke="#ff4848" stroke-width="1.0"/>
<line x1="139.70" y1="448.30" x2="139.70" y2="506.20" stroke="#ff4848" stroke-width="1.0"/>
<line x1="142.00" y1="448.30" x2="142.00" y2="506.20" stroke="#ff4848" stroke-width="1.0"/>
<line x1="144.30" y1="448.30" x2="144.30" y2="506.20" stroke="#ff4848" stroke-width="1.0"/>
<line x1="146.60" y1="448.30" x2="146.60" y2="506.20" stroke="#ff4848" stroke-width="1.0"/>
<text x="177.50" y="409.80" font-family="Liberation Sans" font-size="14" font-weight="bold" text-anchor="start" dominant-baseline="central" fill="#111">(j)</text>
<rect x="204.7" y="420.2" width="120.60000000000002" height="94.80000000000001" fill="none" stroke="#383838" stroke-width="1.15"/>
<line x1="202.80" y1="420.31" x2="204.70" y2="420.31" stroke="#383838" stroke-width="1.15"/>
<text x="202.00" y="420.31" font-family="Liberation Serif" font-size="10" font-weight="bold" text-anchor="end" dominant-baseline="central" fill="#111" stroke="#111" stroke-width="0.25">350</text>
<line x1="202.80" y1="432.88" x2="204.70" y2="432.88" stroke="#383838" stroke-width="1.15"/>
<text x="202.00" y="432.88" font-family="Liberation Serif" font-size="10" font-weight="bold" text-anchor="end" dominant-baseline="central" fill="#111" stroke="#111" stroke-width="0.25">300</text>
<line x1="202.80" y1="445.45" x2="204.70" y2="445.45" stroke="#383838" stroke-width="1.15"/>
<text x="202.00" y="445.45" font-family="Liberation Serif" font-size="10" font-weight="bold" text-anchor="end" dominant-baseline="central" fill="#111" stroke="#111" stroke-width="0.25">250</text>
<line x1="202.80" y1="458.02" x2="204.70" y2="458.02" stroke="#383838" stroke-width="1.15"/>
<text x="202.00" y="458.02" font-family="Liberation Serif" font-size="10" font-weight="bold" text-anchor="end" dominant-baseline="central" fill="#111" stroke="#111" stroke-width="0.25">200</text>
<line x1="202.80" y1="470.59" x2="204.70" y2="470.59" stroke="#383838" stroke-width="1.15"/>
<text x="202.00" y="470.59" font-family="Liberation Serif" font-size="10" font-weight="bold" text-anchor="end" dominant-baseline="central" fill="#111" stroke="#111" stroke-width="0.25">150</text>
<line x1="202.80" y1="483.16" x2="204.70" y2="483.16" stroke="#383838" stroke-width="1.15"/>
<text x="202.00" y="483.16" font-family="Liberation Serif" font-size="10" font-weight="bold" text-anchor="end" dominant-baseline="central" fill="#111" stroke="#111" stroke-width="0.25">100</text>
<line x1="202.80" y1="495.73" x2="204.70" y2="495.73" stroke="#383838" stroke-width="1.15"/>
<text x="202.00" y="495.73" font-family="Liberation Serif" font-size="10" font-weight="bold" text-anchor="end" dominant-baseline="central" fill="#111" stroke="#111" stroke-width="0.25">50</text>
<line x1="202.80" y1="508.30" x2="204.70" y2="508.30" stroke="#383838" stroke-width="1.15"/>
<text x="202.00" y="508.30" font-family="Liberation Serif" font-size="10" font-weight="bold" text-anchor="end" dominant-baseline="central" fill="#111" stroke="#111" stroke-width="0.25">0</text>
<line x1="210.60" y1="515.00" x2="210.60" y2="516.90" stroke="#383838" stroke-width="1.15"/>
<text x="210.60" y="522.70" font-family="Liberation Serif" font-size="10" font-weight="bold" text-anchor="middle" dominant-baseline="central" fill="#111" stroke="#111" stroke-width="0.25">0</text>
<line x1="237.78" y1="515.00" x2="237.78" y2="516.90" stroke="#383838" stroke-width="1.15"/>
<text x="237.78" y="522.70" font-family="Liberation Serif" font-size="10" font-weight="bold" text-anchor="middle" dominant-baseline="central" fill="#111" stroke="#111" stroke-width="0.25">250</text>
<line x1="264.95" y1="515.00" x2="264.95" y2="516.90" stroke="#383838" stroke-width="1.15"/>
<text x="264.95" y="522.70" font-family="Liberation Serif" font-size="10" font-weight="bold" text-anchor="middle" dominant-baseline="central" fill="#111" stroke="#111" stroke-width="0.25">500</text>
<line x1="292.12" y1="515.00" x2="292.12" y2="516.90" stroke="#383838" stroke-width="1.15"/>
<text x="292.12" y="522.70" font-family="Liberation Serif" font-size="10" font-weight="bold" text-anchor="middle" dominant-baseline="central" fill="#111" stroke="#111" stroke-width="0.25">750</text>
<line x1="319.30" y1="515.00" x2="319.30" y2="516.90" stroke="#383838" stroke-width="1.15"/>
<text x="319.30" y="522.70" font-family="Liberation Serif" font-size="10" font-weight="bold" text-anchor="middle" dominant-baseline="central" fill="#111" stroke="#111" stroke-width="0.25">1000</text>
<text x="268.80" y="539.60" font-family="Liberation Serif" font-size="9.7" font-weight="bold" text-anchor="middle" dominant-baseline="central" fill="#111" stroke="#111" stroke-width="0.25">Time (S)</text>
<text x="177.20" y="463.00" font-family="Liberation Serif" font-size="9.8" font-weight="bold" text-anchor="middle" dominant-baseline="central" fill="#111" stroke="#111" stroke-width="0.25" transform="rotate(-90 177.2 463)">Voltage (V)</text>
<rect x="210.20" y="465.90" width="108.70" height="42.90" fill="#575757"/>
<rect x="218.90" y="425.20" width="35.10" height="29.40" fill="#fff" stroke="#8a8a8a" stroke-width="0.45"/>
<line x1="220.70" y1="430.30" x2="220.70" y2="454.30" stroke="#2fc86c" stroke-width="0.75"/>
<line x1="223.85" y1="430.30" x2="223.85" y2="454.30" stroke="#2fc86c" stroke-width="0.75"/>
<line x1="227.00" y1="430.30" x2="227.00" y2="454.30" stroke="#2fc86c" stroke-width="0.75"/>
<line x1="230.15" y1="430.30" x2="230.15" y2="454.30" stroke="#2fc86c" stroke-width="0.75"/>
<line x1="233.30" y1="430.30" x2="233.30" y2="454.30" stroke="#2fc86c" stroke-width="0.75"/>
<line x1="236.45" y1="430.30" x2="236.45" y2="454.30" stroke="#2fc86c" stroke-width="0.75"/>
<line x1="239.60" y1="430.30" x2="239.60" y2="454.30" stroke="#2fc86c" stroke-width="0.75"/>
<line x1="242.75" y1="430.30" x2="242.75" y2="454.30" stroke="#2fc86c" stroke-width="0.75"/>
<line x1="245.90" y1="430.30" x2="245.90" y2="454.30" stroke="#2fc86c" stroke-width="0.75"/>
<line x1="249.05" y1="430.30" x2="249.05" y2="454.30" stroke="#2fc86c" stroke-width="0.75"/>
<line x1="252.20" y1="430.30" x2="252.20" y2="454.30" stroke="#2fc86c" stroke-width="0.75"/>
<line x1="220.70" y1="430.30" x2="252.20" y2="430.30" stroke="#2fc86c" stroke-width="0.8"/>
<text x="236.45" y="463.20000000000005" font-family="Liberation Serif" font-size="3.2" text-anchor="middle" fill="#444">Time (s)</text>
<text x="220.70" y="458.70000000000005" font-family="Liberation Serif" font-size="2.7" text-anchor="middle" fill="#444">0</text>
<line x1="220.70" y1="454.60" x2="220.70" y2="455.40" stroke="#777" stroke-width="0.3"/>
<text x="227.00" y="458.70000000000005" font-family="Liberation Serif" font-size="2.7" text-anchor="middle" fill="#444">2</text>
<line x1="227.00" y1="454.60" x2="227.00" y2="455.40" stroke="#777" stroke-width="0.3"/>
<text x="233.30" y="458.70000000000005" font-family="Liberation Serif" font-size="2.7" text-anchor="middle" fill="#444">4</text>
<line x1="233.30" y1="454.60" x2="233.30" y2="455.40" stroke="#777" stroke-width="0.3"/>
<text x="239.60" y="458.70000000000005" font-family="Liberation Serif" font-size="2.7" text-anchor="middle" fill="#444">6</text>
<line x1="239.60" y1="454.60" x2="239.60" y2="455.40" stroke="#777" stroke-width="0.3"/>
<text x="245.90" y="458.70000000000005" font-family="Liberation Serif" font-size="2.7" text-anchor="middle" fill="#444">8</text>
<line x1="245.90" y1="454.60" x2="245.90" y2="455.40" stroke="#777" stroke-width="0.3"/>
<text x="252.20" y="458.70000000000005" font-family="Liberation Serif" font-size="2.7" text-anchor="middle" fill="#444">10</text>
<line x1="252.20" y1="454.60" x2="252.20" y2="455.40" stroke="#777" stroke-width="0.3"/>
<text x="211.3" y="439.9" font-family="Liberation Serif" font-size="3" text-anchor="middle" fill="#444" transform="rotate(-90 211.3 439.9)">Voltage (V)</text>
<text x="218.20000000000002" y="426.60" font-family="Liberation Serif" font-size="2.7" text-anchor="end" fill="#444">2000</text>
<text x="218.20000000000002" y="433.85" font-family="Liberation Serif" font-size="2.7" text-anchor="end" fill="#444">1500</text>
<text x="218.20000000000002" y="441.10" font-family="Liberation Serif" font-size="2.7" text-anchor="end" fill="#444">1000</text>
<text x="218.20000000000002" y="448.35" font-family="Liberation Serif" font-size="2.7" text-anchor="end" fill="#444">500</text>
<text x="218.20000000000002" y="455.60" font-family="Liberation Serif" font-size="2.7" text-anchor="end" fill="#444">0</text>
<rect x="278.60" y="425.20" width="35.80" height="29.40" fill="#fff" stroke="#8a8a8a" stroke-width="0.45"/>
<line x1="280.40" y1="430.30" x2="280.40" y2="454.30" stroke="#c864f0" stroke-width="0.75"/>
<line x1="283.62" y1="430.30" x2="283.62" y2="454.30" stroke="#c864f0" stroke-width="0.75"/>
<line x1="286.84" y1="430.30" x2="286.84" y2="454.30" stroke="#c864f0" stroke-width="0.75"/>
<line x1="290.06" y1="430.30" x2="290.06" y2="454.30" stroke="#c864f0" stroke-width="0.75"/>
<line x1="293.28" y1="430.30" x2="293.28" y2="454.30" stroke="#c864f0" stroke-width="0.75"/>
<line x1="296.50" y1="430.30" x2="296.50" y2="454.30" stroke="#c864f0" stroke-width="0.75"/>
<line x1="299.72" y1="430.30" x2="299.72" y2="454.30" stroke="#c864f0" stroke-width="0.75"/>
<line x1="302.94" y1="430.30" x2="302.94" y2="454.30" stroke="#c864f0" stroke-width="0.75"/>
<line x1="306.16" y1="430.30" x2="306.16" y2="454.30" stroke="#c864f0" stroke-width="0.75"/>
<line x1="309.38" y1="430.30" x2="309.38" y2="454.30" stroke="#c864f0" stroke-width="0.75"/>
<line x1="312.60" y1="430.30" x2="312.60" y2="454.30" stroke="#c864f0" stroke-width="0.75"/>
<line x1="280.40" y1="430.30" x2="312.60" y2="430.30" stroke="#c864f0" stroke-width="0.8"/>
<text x="296.5" y="463.20000000000005" font-family="Liberation Serif" font-size="3.2" text-anchor="middle" fill="#444">Time (s)</text>
<text x="280.40" y="458.70000000000005" font-family="Liberation Serif" font-size="2.7" text-anchor="middle" fill="#444">990</text>
<line x1="280.40" y1="454.60" x2="280.40" y2="455.40" stroke="#777" stroke-width="0.3"/>
<text x="286.84" y="458.70000000000005" font-family="Liberation Serif" font-size="2.7" text-anchor="middle" fill="#444">992</text>
<line x1="286.84" y1="454.60" x2="286.84" y2="455.40" stroke="#777" stroke-width="0.3"/>
<text x="293.28" y="458.70000000000005" font-family="Liberation Serif" font-size="2.7" text-anchor="middle" fill="#444">994</text>
<line x1="293.28" y1="454.60" x2="293.28" y2="455.40" stroke="#777" stroke-width="0.3"/>
<text x="299.72" y="458.70000000000005" font-family="Liberation Serif" font-size="2.7" text-anchor="middle" fill="#444">996</text>
<line x1="299.72" y1="454.60" x2="299.72" y2="455.40" stroke="#777" stroke-width="0.3"/>
<text x="306.16" y="458.70000000000005" font-family="Liberation Serif" font-size="2.7" text-anchor="middle" fill="#444">998</text>
<line x1="306.16" y1="454.60" x2="306.16" y2="455.40" stroke="#777" stroke-width="0.3"/>
<text x="312.60" y="458.70000000000005" font-family="Liberation Serif" font-size="2.7" text-anchor="middle" fill="#444">1000</text>
<line x1="312.60" y1="454.60" x2="312.60" y2="455.40" stroke="#777" stroke-width="0.3"/>
<text x="271.0" y="439.9" font-family="Liberation Serif" font-size="3" text-anchor="middle" fill="#444" transform="rotate(-90 271.0 439.9)">Voltage (V)</text>
<text x="277.90000000000003" y="426.60" font-family="Liberation Serif" font-size="2.7" text-anchor="end" fill="#444">2000</text>
<text x="277.90000000000003" y="433.85" font-family="Liberation Serif" font-size="2.7" text-anchor="end" fill="#444">1500</text>
<text x="277.90000000000003" y="441.10" font-family="Liberation Serif" font-size="2.7" text-anchor="end" fill="#444">1000</text>
<text x="277.90000000000003" y="448.35" font-family="Liberation Serif" font-size="2.7" text-anchor="end" fill="#444">500</text>
<text x="277.90000000000003" y="455.60" font-family="Liberation Serif" font-size="2.7" text-anchor="end" fill="#444">0</text>
<text x="346.00" y="409.30" font-family="Liberation Sans" font-size="14" font-weight="bold" text-anchor="start" dominant-baseline="central" fill="#111">(k)</text>
<rect x="371.5" y="420.6" width="118.19999999999999" height="92.10000000000002" fill="none" stroke="#383838" stroke-width="1.15"/>
<line x1="369.60" y1="420.20" x2="371.50" y2="420.20" stroke="#383838" stroke-width="1.15"/>
<text x="368.50" y="420.20" font-family="Liberation Serif" font-size="9.5" font-weight="bold" text-anchor="end" dominant-baseline="central" fill="#111" stroke="#111" stroke-width="0.25">200</text>
<line x1="369.60" y1="441.05" x2="371.50" y2="441.05" stroke="#383838" stroke-width="1.15"/>
<text x="368.50" y="441.05" font-family="Liberation Serif" font-size="9.5" font-weight="bold" text-anchor="end" dominant-baseline="central" fill="#111" stroke="#111" stroke-width="0.25">150</text>
<line x1="369.60" y1="461.90" x2="371.50" y2="461.90" stroke="#383838" stroke-width="1.15"/>
<text x="368.50" y="461.90" font-family="Liberation Serif" font-size="9.5" font-weight="bold" text-anchor="end" dominant-baseline="central" fill="#111" stroke="#111" stroke-width="0.25">100</text>
<line x1="369.60" y1="482.75" x2="371.50" y2="482.75" stroke="#383838" stroke-width="1.15"/>
<text x="368.50" y="482.75" font-family="Liberation Serif" font-size="9.5" font-weight="bold" text-anchor="end" dominant-baseline="central" fill="#111" stroke="#111" stroke-width="0.25">50</text>
<line x1="369.60" y1="503.60" x2="371.50" y2="503.60" stroke="#383838" stroke-width="1.15"/>
<text x="368.50" y="503.60" font-family="Liberation Serif" font-size="9.5" font-weight="bold" text-anchor="end" dominant-baseline="central" fill="#111" stroke="#111" stroke-width="0.25">0</text>
<line x1="377.40" y1="512.70" x2="377.40" y2="514.60" stroke="#383838" stroke-width="1.15"/>
<text x="377.40" y="521.80" font-family="Liberation Serif" font-size="9.5" font-weight="bold" text-anchor="middle" dominant-baseline="central" fill="#111" stroke="#111" stroke-width="0.25">0</text>
<line x1="398.60" y1="512.70" x2="398.60" y2="514.60" stroke="#383838" stroke-width="1.15"/>
<text x="398.60" y="521.80" font-family="Liberation Serif" font-size="9.5" font-weight="bold" text-anchor="middle" dominant-baseline="central" fill="#111" stroke="#111" stroke-width="0.25">20</text>
<line x1="419.80" y1="512.70" x2="419.80" y2="514.60" stroke="#383838" stroke-width="1.15"/>
<text x="419.80" y="521.80" font-family="Liberation Serif" font-size="9.5" font-weight="bold" text-anchor="middle" dominant-baseline="central" fill="#111" stroke="#111" stroke-width="0.25">40</text>
<line x1="441.00" y1="512.70" x2="441.00" y2="514.60" stroke="#383838" stroke-width="1.15"/>
<text x="441.00" y="521.80" font-family="Liberation Serif" font-size="9.5" font-weight="bold" text-anchor="middle" dominant-baseline="central" fill="#111" stroke="#111" stroke-width="0.25">60</text>
<line x1="462.20" y1="512.70" x2="462.20" y2="514.60" stroke="#383838" stroke-width="1.15"/>
<text x="462.20" y="521.80" font-family="Liberation Serif" font-size="9.5" font-weight="bold" text-anchor="middle" dominant-baseline="central" fill="#111" stroke="#111" stroke-width="0.25">80</text>
<line x1="483.40" y1="512.70" x2="483.40" y2="514.60" stroke="#383838" stroke-width="1.15"/>
<text x="483.40" y="521.80" font-family="Liberation Serif" font-size="9.5" font-weight="bold" text-anchor="middle" dominant-baseline="central" fill="#111" stroke="#111" stroke-width="0.25">100</text>
<text x="432.60" y="536.60" font-family="Liberation Serif" font-size="9.7" font-weight="bold" text-anchor="middle" dominant-baseline="central" fill="#111" stroke="#111" stroke-width="0.25">Number cycle</text>
<text x="347.70" y="463.50" font-family="Liberation Serif" font-size="9.8" font-weight="bold" text-anchor="middle" dominant-baseline="central" fill="#111" stroke="#111" stroke-width="0.25" transform="rotate(-90 347.7 463.5)">Voltage (V)</text>
<polyline points="378.6,436.0 383.9,435.8 389.2,435.5 394.4,435.9 399.7,435.8 405.0,435.6 410.3,435.9 415.6,436.7 420.8,436.0 426.1,435.8 431.4,435.5 436.7,436.0 442.0,435.9 447.2,435.8 452.5,436.0 457.8,435.7 463.1,435.9 468.4,436.0 473.6,435.8 478.9,435.9 484.2,435.8" fill="none" stroke="#7a7ab0" stroke-width="0.5"/>
<rect x="377.45" y="434.85" width="2.3" height="2.3" fill="#1a22f8" transform="rotate(45 378.60 436.00)"/>
<rect x="382.73" y="434.65" width="2.3" height="2.3" fill="#1a22f8" transform="rotate(45 383.88 435.80)"/>
<rect x="388.01" y="434.35" width="2.3" height="2.3" fill="#1a22f8" transform="rotate(45 389.16 435.50)"/>
<rect x="393.29" y="434.75" width="2.3" height="2.3" fill="#1a22f8" transform="rotate(45 394.44 435.90)"/>
<rect x="398.57" y="434.65" width="2.3" height="2.3" fill="#1a22f8" transform="rotate(45 399.72 435.80)"/>
<rect x="403.85" y="434.45" width="2.3" height="2.3" fill="#1a22f8" transform="rotate(45 405.00 435.60)"/>
<rect x="409.13" y="434.75" width="2.3" height="2.3" fill="#1a22f8" transform="rotate(45 410.28 435.90)"/>
<rect x="414.41" y="435.55" width="2.3" height="2.3" fill="#1a22f8" transform="rotate(45 415.56 436.70)"/>
<rect x="419.69" y="434.85" width="2.3" height="2.3" fill="#1a22f8" transform="rotate(45 420.84 436.00)"/>
<rect x="424.97" y="434.65" width="2.3" height="2.3" fill="#1a22f8" transform="rotate(45 426.12 435.80)"/>
<rect x="430.25" y="434.35" width="2.3" height="2.3" fill="#1a22f8" transform="rotate(45 431.40 435.50)"/>
<rect x="435.53" y="434.85" width="2.3" height="2.3" fill="#1a22f8" transform="rotate(45 436.68 436.00)"/>
<rect x="440.81" y="434.75" width="2.3" height="2.3" fill="#1a22f8" transform="rotate(45 441.96 435.90)"/>
<rect x="446.09" y="434.65" width="2.3" height="2.3" fill="#1a22f8" transform="rotate(45 447.24 435.80)"/>
<rect x="451.37" y="434.85" width="2.3" height="2.3" fill="#1a22f8" transform="rotate(45 452.52 436.00)"/>
<rect x="456.65" y="434.55" width="2.3" height="2.3" fill="#1a22f8" transform="rotate(45 457.80 435.70)"/>
<rect x="461.93" y="434.75" width="2.3" height="2.3" fill="#1a22f8" transform="rotate(45 463.08 435.90)"/>
<rect x="467.21" y="434.85" width="2.3" height="2.3" fill="#1a22f8" transform="rotate(45 468.36 436.00)"/>
<rect x="472.49" y="434.65" width="2.3" height="2.3" fill="#1a22f8" transform="rotate(45 473.64 435.80)"/>
<rect x="477.77" y="434.75" width="2.3" height="2.3" fill="#1a22f8" transform="rotate(45 478.92 435.90)"/>
<rect x="483.05" y="434.65" width="2.3" height="2.3" fill="#1a22f8" transform="rotate(45 484.20 435.80)"/>
<rect x="385.50" y="444.60" width="41.30" height="27.40" fill="url(#photobg)"/>
<path d="M386.6,451.8 C387.67,450.13 390.67,450.73 393,450.2 C395.33,449.67 397.60,448.58 400.6,448.6 C403.60,448.62 407.65,449.70 411,450.3 C414.35,450.90 419.17,450.92 420.7,452.2 C422.23,453.48 420.33,456.03 420.2,458 C420.07,459.97 421.85,462.47 419.9,464 C417.95,465.53 412.32,467.37 408.5,467.2 C404.68,467.03 400.65,464.17 397,463 C393.35,461.83 388.33,462.07 386.6,460.2 C384.87,458.33 385.53,453.47 386.6,451.8Z" fill="#f8a418"/>
<path d="M388,452.5 C388.17,452.27 396.17,450.25 400,450 C403.83,449.75 407.83,450.42 411,451 C414.17,451.58 419.00,453.23 419,453.5 C419.00,453.77 414.33,452.95 411,452.6 C407.67,452.25 402.83,451.42 399,451.4 C395.17,451.38 387.83,452.73 388,452.5Z" fill="#e58a0c"/>
<polygon points="385.6,444.8 396,444.7 400.8,447.5 398,450.8 391,450.5 385.6,451.2" fill="url(#glovedk)"/>
<polygon points="408.5,471.8 411,466.8 416.5,465.2 421,466.2 425.8,471.8" fill="url(#glovelt)"/>
<rect x="435.60" y="444.60" width="40.60" height="27.40" fill="url(#photobg)"/>
<polygon points="435.8,452 440,450.8 449,451.5 452,457 450,466 446,471.8 435.8,471.8" fill="url(#glovedk)"/>
<path d="M436.5,446.8 C437.50,445.87 442.42,445.35 446,445.6 C449.58,445.85 454.33,447.27 458,448.3 C461.67,449.33 465.00,450.93 468,451.8 C471.00,452.67 474.83,452.38 476,453.5 C477.17,454.62 476.50,457.17 475,458.5 C473.50,459.83 469.17,460.00 467,461.5 C464.83,463.00 463.67,467.42 462,467.5 C460.33,467.58 458.67,464.08 457,462 C455.33,459.92 453.67,456.70 452,455 C450.33,453.30 449.00,452.43 447,451.8 C445.00,451.17 441.75,452.03 440,451.2 C438.25,450.37 435.50,447.73 436.5,446.8Z" fill="#f7a21a"/>
<path d="M452,455 C452.17,454.17 455.67,455.33 458,456 C460.33,456.67 465.33,457.58 466,459 C466.67,460.42 463.50,464.17 462,464.5 C460.50,464.83 458.67,462.58 457,461 C455.33,459.42 451.83,455.83 452,455Z" fill="#e8880c"/>
<polygon points="452,471.8 456,467.5 465,464.2 470,462.5 471.5,466.5 467,471.8" fill="url(#glovelt)"/>
<rect x="385.50" y="479.20" width="41.30" height="27.20" fill="url(#photobg)"/>
<path d="M390,484.8 C391.87,483.85 396.83,484.35 400,484.3 C403.17,484.25 406.25,484.45 409,484.5 C411.75,484.55 414.92,483.35 416.5,484.6 C418.08,485.85 417.88,489.43 418.5,492 C419.12,494.57 421.95,498.33 420.2,500 C418.45,501.67 412.37,501.30 408,502 C403.63,502.70 396.83,505.03 394,504.2 C391.17,503.37 391.87,499.37 391,497 C390.13,494.63 388.97,492.03 388.8,490 C388.63,487.97 388.13,485.75 390,484.8Z" fill="#f8a418"/>
<path d="M392,486 C393.83,485.63 401.00,485.37 405,485.3 C409.00,485.23 416.00,485.32 416,485.6 C416.00,485.88 408.67,486.68 405,487 C401.33,487.32 396.17,487.67 394,487.5 C391.83,487.33 390.17,486.37 392,486Z" fill="#e78c0d"/>
<polygon points="385.6,479.5 390,479.4 396,484 396.5,488 391,489 387.5,494 385.6,494" fill="url(#glovedk)"/>
<polygon points="414.5,506.2 417,500.5 421.5,498.5 425.5,501 426.6,506.2" fill="url(#glovelt)"/>
<rect x="435.60" y="479.20" width="40.60" height="27.20" fill="url(#photobg)"/>
<polygon points="435.8,487 441,485.5 450,487.5 452,493 449.5,501 446,506.2 435.8,506.2" fill="url(#glovedk)"/>
<path d="M437.5,481.8 C438.50,481.17 443.25,480.75 447,481.2 C450.75,481.65 456.17,483.37 460,484.5 C463.83,485.63 467.33,487.17 470,488 C472.67,488.83 475.33,488.67 476,489.5 C476.67,490.33 475.83,491.83 474,493 C472.17,494.17 467.33,495.42 465,496.5 C462.67,497.58 461.67,499.83 460,499.5 C458.33,499.17 456.83,496.72 455,494.5 C453.17,492.28 451.33,487.78 449,486.2 C446.67,484.62 442.92,485.73 441,485 C439.08,484.27 436.50,482.43 437.5,481.8Z" fill="#f7a21a"/>
<path d="M450,487.5 C450.50,487.00 455.33,488.92 458,490 C460.67,491.08 465.67,492.67 466,494 C466.33,495.33 461.83,498.17 460,498 C458.17,497.83 456.67,494.75 455,493 C453.33,491.25 449.50,488.00 450,487.5Z" fill="#e8880c"/>
<polygon points="447,506.2 452,501.5 462,498.5 466.5,497 467.5,501 462,506.2" fill="url(#glovelt)"/>
<line x1="428.50" y1="461.00" x2="432.50" y2="461.00" stroke="#1a3ff0" stroke-width="1.2"/>
<polygon points="432,459 435,461 432,463" fill="#1a3ff0"/>
<line x1="457.10" y1="473.00" x2="457.10" y2="476.50" stroke="#1a3ff0" stroke-width="1.2"/>
<polygon points="455.1,476 457.1,479 459.1,476" fill="#1a3ff0"/>
<line x1="430.50" y1="493.50" x2="434.50" y2="493.50" stroke="#1a3ff0" stroke-width="1.2"/>
<polygon points="431,491.5 428,493.5 431,495.5" fill="#1a3ff0"/>
</svg></body></html>
